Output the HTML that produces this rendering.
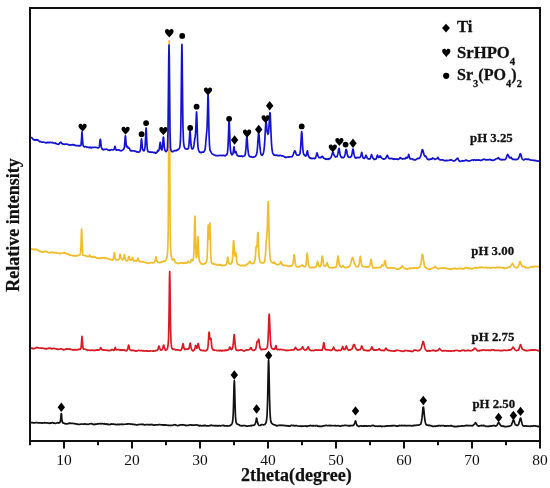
<!DOCTYPE html>
<html><head><meta charset="utf-8"><style>
html,body{margin:0;padding:0;background:#fff;}
body{width:550px;height:488px;overflow:hidden;}
svg{display:block;}
</style></head><body>
<svg width="550" height="488" viewBox="0 0 550 488">
<rect width="550" height="488" fill="#fff"/>
<g fill="none" stroke-width="1.7" stroke-linejoin="round">
<path stroke="#111" d="M31.00,422.59 31.50,422.64 32.00,422.71 32.50,422.61 33.00,422.87 33.50,422.90 34.00,422.80 34.50,422.77 35.00,422.79 35.50,422.65 36.00,422.72 36.50,422.74 37.00,422.48 37.50,422.75 38.00,422.87 38.50,422.97 39.00,422.83 39.50,422.86 40.00,422.91 40.50,422.90 41.00,422.88 41.50,423.04 42.00,423.13 42.50,423.09 43.00,422.92 43.50,422.99 44.00,423.01 44.50,422.62 45.00,422.82 45.50,422.88 46.00,422.82 46.50,422.85 47.00,422.82 47.50,422.80 48.00,423.19 48.50,423.08 49.00,423.34 49.50,423.39 50.00,423.05 50.50,422.95 51.00,423.10 51.50,422.92 52.00,422.65 52.50,422.66 53.00,422.76 53.50,423.20 54.00,423.26 54.50,423.05 55.00,423.39 55.50,423.44 56.00,423.23 56.50,423.00 57.00,423.00 57.50,422.74 58.00,422.65 58.50,423.05 59.00,422.85 59.50,422.68 60.00,422.52 60.30,421.61 60.50,420.81 60.80,418.07 61.00,415.35 61.05,414.77 61.30,413.60 61.50,414.27 61.55,414.80 61.80,418.04 62.00,419.92 62.30,421.78 62.50,422.23 63.00,423.14 63.50,423.12 64.00,423.28 64.50,423.43 65.00,423.68 65.50,423.59 66.00,423.94 66.50,423.85 67.00,423.91 67.50,423.87 68.00,423.53 68.50,423.57 69.00,423.29 69.50,423.10 70.00,423.42 70.50,423.15 71.00,423.32 71.50,423.47 72.00,423.43 72.50,423.36 73.00,423.46 73.50,423.52 74.00,423.71 74.50,423.52 75.00,423.83 75.50,423.78 76.00,423.83 76.50,424.09 77.00,424.04 77.50,424.15 78.00,424.33 78.50,424.47 79.00,424.29 79.50,424.35 80.00,424.25 80.50,424.17 81.00,424.17 81.50,424.00 82.00,424.01 82.50,423.98 83.00,424.16 83.50,424.02 84.00,424.06 84.50,424.06 85.00,423.75 85.50,423.93 86.00,424.22 86.50,424.32 87.00,424.15 87.50,424.25 88.00,424.45 88.50,424.22 89.00,424.13 89.50,423.84 90.00,423.89 90.50,423.77 91.00,423.76 91.50,423.49 92.00,423.90 92.50,424.08 93.00,424.05 93.50,424.54 94.00,424.64 94.50,424.27 95.00,424.50 95.50,424.12 96.00,424.03 96.50,424.16 97.00,424.05 97.50,423.74 98.00,423.84 98.50,423.85 99.00,423.74 99.50,423.66 100.00,423.71 100.50,423.90 101.00,423.58 101.50,423.82 102.00,423.77 102.50,423.58 103.00,423.73 103.50,423.88 104.00,423.87 104.50,423.72 105.00,424.19 105.50,424.14 106.00,424.24 106.50,423.90 107.00,424.07 107.50,424.10 108.00,424.56 108.50,424.43 109.00,424.41 109.50,424.50 110.00,424.61 110.50,424.42 111.00,424.02 111.50,423.86 112.00,424.17 112.50,424.05 113.00,424.18 113.50,424.01 114.00,424.10 114.50,424.47 115.00,424.38 115.50,424.23 116.00,424.64 116.50,424.52 117.00,424.62 117.50,424.31 118.00,424.67 118.50,424.30 119.00,424.62 119.50,424.38 120.00,424.27 120.50,424.32 121.00,424.47 121.50,424.20 122.00,424.17 122.50,424.40 123.00,424.32 123.50,424.30 124.00,424.34 124.50,424.26 125.00,424.25 125.50,424.18 126.00,424.07 126.50,424.19 127.00,423.95 127.50,424.05 128.00,423.91 128.50,423.99 129.00,423.85 129.50,423.96 130.00,423.86 130.50,424.20 131.00,424.15 131.50,424.03 132.00,424.20 132.50,424.44 133.00,424.08 133.50,424.44 134.00,424.36 134.50,424.51 135.00,424.79 135.50,424.68 136.00,424.77 136.50,424.84 137.00,424.93 137.50,424.59 138.00,424.76 138.50,424.66 139.00,424.61 139.50,424.51 140.00,424.47 140.50,424.31 141.00,424.33 141.50,424.28 142.00,424.58 142.50,424.39 143.00,424.41 143.50,424.44 144.00,424.85 144.50,424.92 145.00,424.86 145.50,424.68 146.00,424.64 146.50,424.64 147.00,424.69 147.50,424.54 148.00,424.66 148.50,424.57 149.00,424.87 149.50,424.84 150.00,424.62 150.50,424.46 151.00,424.78 151.50,424.52 152.00,424.64 152.50,424.61 153.00,424.90 153.50,425.04 154.00,425.10 154.50,424.96 155.00,425.09 155.50,424.85 156.00,424.95 156.50,424.86 157.00,424.99 157.50,424.80 158.00,424.72 158.50,424.74 159.00,424.61 159.50,424.69 160.00,424.63 160.50,424.76 161.00,424.79 161.50,424.90 162.00,425.06 162.50,424.91 163.00,424.91 163.50,425.21 164.00,424.83 164.50,425.08 165.00,425.04 165.50,424.76 166.00,425.12 166.50,425.18 167.00,425.13 167.50,425.27 168.00,425.40 168.50,425.16 169.00,425.37 169.50,425.35 170.00,425.48 170.50,425.44 171.00,425.42 171.50,425.29 172.00,425.43 172.50,425.31 173.00,425.24 173.50,424.93 174.00,424.74 174.50,424.71 175.00,424.79 175.50,424.73 176.00,425.20 176.50,425.24 177.00,425.45 177.50,425.58 178.00,425.67 178.50,425.52 179.00,425.15 179.50,425.31 180.00,425.09 180.50,424.82 181.00,424.78 181.50,424.87 182.00,424.66 182.50,425.04 183.00,424.90 183.50,424.89 184.00,425.00 184.50,425.24 185.00,425.07 185.50,425.40 186.00,425.60 186.50,425.45 187.00,425.43 187.50,425.44 188.00,425.43 188.50,425.32 189.00,425.12 189.50,425.02 190.00,424.73 190.50,424.80 191.00,424.91 191.50,425.22 192.00,425.11 192.50,425.30 193.00,425.08 193.50,425.08 194.00,425.09 194.50,425.17 195.00,425.08 195.50,425.00 196.00,424.80 196.50,424.95 197.00,425.05 197.50,425.21 198.00,425.21 198.50,425.68 199.00,425.42 199.50,425.79 200.00,425.79 200.50,425.41 201.00,425.64 201.50,425.83 202.00,425.91 202.50,425.67 203.00,425.56 203.50,425.49 204.00,425.78 204.50,425.42 205.00,425.58 205.50,425.41 206.00,425.65 206.50,425.92 207.00,425.63 207.50,426.00 208.00,425.89 208.50,426.02 209.00,425.84 209.50,425.50 210.00,425.67 210.50,425.39 211.00,425.15 211.50,425.17 212.00,425.47 212.50,425.55 213.00,425.58 213.50,425.58 214.00,425.71 214.50,425.69 215.00,425.91 215.50,425.52 216.00,425.83 216.50,425.86 217.00,425.53 217.50,425.90 218.00,425.81 218.50,425.89 219.00,425.62 219.50,425.66 220.00,425.67 220.50,425.93 221.00,425.72 221.50,425.58 222.00,425.57 222.50,425.48 223.00,425.36 223.50,425.40 224.00,425.80 224.50,425.63 225.00,426.00 225.50,425.75 226.00,425.77 226.50,425.87 227.00,425.72 227.50,425.80 228.00,426.04 228.50,425.98 229.00,425.90 229.50,425.70 230.00,425.63 230.50,425.37 231.00,424.85 231.50,424.48 232.00,423.53 232.50,422.45 233.00,417.95 233.30,412.05 233.50,405.99 233.80,394.31 234.00,386.43 234.05,385.17 234.30,380.60 234.50,383.39 234.55,385.00 234.80,394.40 235.00,402.33 235.30,412.14 235.50,416.63 236.00,421.74 236.50,423.51 237.00,423.91 237.50,424.30 238.00,424.43 238.50,424.55 239.00,424.78 239.50,425.05 240.00,425.58 240.50,425.57 241.00,425.53 241.50,425.87 242.00,425.92 242.50,425.68 243.00,425.55 243.50,425.57 244.00,425.54 244.50,425.68 245.00,425.64 245.50,425.80 246.00,425.89 246.50,426.10 247.00,426.27 247.50,426.20 248.00,426.02 248.50,425.97 249.00,425.98 249.50,425.88 250.00,425.84 250.50,425.67 251.00,425.65 251.50,425.82 252.00,425.29 252.50,425.33 253.00,425.31 253.50,425.36 254.00,424.99 254.50,424.84 255.00,424.31 255.50,423.02 255.60,422.62 256.00,420.72 256.10,420.08 256.35,418.81 256.50,417.99 256.60,418.20 256.85,418.47 257.00,419.51 257.10,420.17 257.50,422.26 257.60,422.80 258.00,423.96 258.50,424.97 259.00,425.50 259.50,425.50 260.00,425.43 260.50,425.34 261.00,424.85 261.50,424.64 262.00,424.57 262.50,424.70 263.00,424.76 263.50,424.86 264.00,424.70 264.50,424.52 265.00,424.27 265.50,423.60 266.00,422.76 266.50,420.72 267.00,416.27 267.50,403.74 267.60,400.30 268.00,381.28 268.10,375.93 268.35,364.44 268.50,360.47 268.60,360.10 268.85,364.66 269.00,371.11 269.10,375.83 269.50,395.69 269.60,400.09 270.00,412.39 270.50,419.38 271.00,421.85 271.50,423.09 272.00,423.43 272.50,423.94 273.00,424.28 273.50,424.69 274.00,424.69 274.50,424.97 275.00,425.00 275.50,425.14 276.00,425.37 276.50,425.87 277.00,425.85 277.50,425.65 278.00,425.44 278.50,425.52 279.00,425.47 279.50,425.25 280.00,425.15 280.50,425.36 281.00,425.51 281.50,425.23 282.00,425.18 282.50,425.35 283.00,425.41 283.50,425.54 284.00,425.36 284.50,425.67 285.00,425.68 285.50,425.61 286.00,425.49 286.50,425.88 287.00,425.67 287.50,426.02 288.00,425.88 288.50,425.96 289.00,426.25 289.50,425.98 290.00,426.13 290.50,425.74 291.00,425.41 291.50,425.29 292.00,425.32 292.50,425.46 293.00,425.66 293.50,425.39 294.00,425.59 294.50,425.58 295.00,425.95 295.50,425.59 296.00,425.57 296.50,425.60 297.00,425.77 297.50,426.02 298.00,426.02 298.50,425.98 299.00,426.16 299.50,426.22 300.00,426.03 300.50,426.03 301.00,426.39 301.50,426.30 302.00,425.97 302.50,426.24 303.00,426.10 303.50,426.08 304.00,426.06 304.50,425.99 305.00,425.93 305.50,426.06 306.00,426.11 306.50,426.39 307.00,426.02 307.50,426.36 308.00,425.91 308.50,425.84 309.00,425.91 309.50,425.80 310.00,425.58 310.50,425.42 311.00,425.64 311.50,425.63 312.00,425.91 312.50,425.61 313.00,425.69 313.50,425.93 314.00,425.53 314.50,425.69 315.00,425.86 315.50,425.83 316.00,425.50 316.50,425.54 317.00,425.65 317.50,426.16 318.00,425.99 318.50,426.31 319.00,426.42 319.50,426.17 320.00,426.15 320.50,426.48 321.00,426.35 321.50,426.20 322.00,426.41 322.50,426.17 323.00,426.01 323.50,425.69 324.00,425.84 324.50,425.76 325.00,425.57 325.50,425.72 326.00,425.31 326.50,425.41 327.00,425.52 327.50,425.75 328.00,425.75 328.50,425.50 329.00,425.45 329.50,425.54 330.00,425.59 330.50,425.79 331.00,425.46 331.50,425.74 332.00,425.71 332.50,425.75 333.00,425.73 333.50,425.66 334.00,425.53 334.50,425.55 335.00,425.62 335.50,425.87 336.00,425.61 336.50,425.71 337.00,425.98 337.50,425.76 338.00,425.70 338.50,425.71 339.00,425.97 339.50,425.89 340.00,426.19 340.50,426.12 341.00,426.11 341.50,425.70 342.00,425.55 342.50,425.49 343.00,425.65 343.50,425.72 344.00,425.56 344.50,425.40 345.00,425.42 345.50,425.46 346.00,425.46 346.50,425.53 347.00,425.64 347.50,425.66 348.00,425.51 348.50,425.91 349.00,425.69 349.50,425.80 350.00,425.69 350.50,425.83 351.00,425.56 351.50,425.55 352.00,425.51 352.50,425.43 353.00,425.70 353.50,425.38 354.00,424.74 354.50,423.63 355.00,422.21 355.25,421.27 355.50,420.90 355.75,421.20 356.00,422.23 356.50,423.96 357.00,425.38 357.50,425.63 358.00,426.06 358.50,426.29 359.00,426.31 359.50,426.31 360.00,425.88 360.50,425.97 361.00,425.88 361.50,425.91 362.00,426.24 362.50,426.03 363.00,426.15 363.50,425.87 364.00,426.09 364.50,425.91 365.00,425.85 365.50,426.11 366.00,426.21 366.50,425.85 367.00,426.08 367.50,426.10 368.00,425.93 368.50,426.02 369.00,425.93 369.50,425.97 370.00,426.00 370.50,426.11 371.00,426.02 371.50,425.67 372.00,425.43 372.50,425.46 373.00,425.57 373.50,425.42 374.00,425.63 374.50,425.79 375.00,426.26 375.50,426.30 376.00,426.15 376.50,426.16 377.00,426.27 377.50,426.31 378.00,426.32 378.50,426.06 379.00,426.08 379.50,426.33 380.00,426.22 380.50,426.18 381.00,426.22 381.50,426.53 382.00,426.25 382.50,426.36 383.00,426.25 383.50,426.26 384.00,426.44 384.50,426.49 385.00,426.20 385.50,426.09 386.00,426.26 386.50,425.93 387.00,425.74 387.50,426.07 388.00,425.82 388.50,426.00 389.00,425.82 389.50,426.04 390.00,425.85 390.50,425.72 391.00,425.65 391.50,425.87 392.00,425.86 392.50,425.91 393.00,425.47 393.50,425.65 394.00,425.52 394.50,425.62 395.00,425.55 395.50,425.74 396.00,425.98 396.50,426.26 397.00,425.93 397.50,426.06 398.00,426.10 398.50,426.03 399.00,425.55 399.50,425.41 400.00,425.74 400.50,425.75 401.00,425.53 401.50,425.34 402.00,425.73 402.50,425.49 403.00,425.72 403.50,425.60 404.00,425.72 404.50,425.46 405.00,425.77 405.50,425.54 406.00,425.63 406.50,425.83 407.00,425.81 407.50,425.50 408.00,425.51 408.50,425.58 409.00,425.62 409.50,425.57 410.00,425.49 410.50,425.58 411.00,425.83 411.50,425.94 412.00,425.56 412.50,425.76 413.00,425.79 413.50,425.39 414.00,425.67 414.50,425.27 415.00,425.45 415.50,425.41 416.00,425.41 416.50,425.22 417.00,425.22 417.50,425.24 418.00,425.10 418.50,425.14 419.00,424.96 419.50,424.84 420.00,424.45 420.50,424.30 421.00,423.30 421.50,421.22 422.00,417.92 422.30,415.04 422.50,412.75 422.80,409.50 423.00,407.97 423.05,407.49 423.30,407.30 423.50,407.23 423.55,407.63 423.80,409.44 424.00,411.65 424.30,414.89 424.50,416.68 425.00,420.85 425.50,422.91 426.00,424.37 426.50,424.96 427.00,425.13 427.50,425.07 428.00,425.33 428.50,425.27 429.00,425.52 429.50,425.14 430.00,425.48 430.50,425.64 431.00,425.70 431.50,425.97 432.00,425.91 432.50,426.44 433.00,426.29 433.50,426.50 434.00,426.44 434.50,426.05 435.00,426.27 435.50,426.30 436.00,425.90 436.50,426.00 437.00,426.10 437.50,425.72 438.00,425.94 438.50,425.58 439.00,425.80 439.50,425.50 440.00,425.69 440.50,425.90 441.00,425.61 441.50,425.66 442.00,425.78 442.50,425.70 443.00,425.59 443.50,425.69 444.00,425.70 444.50,426.07 445.00,425.96 445.50,426.06 446.00,425.74 446.50,426.02 447.00,425.73 447.50,425.92 448.00,425.97 448.50,425.83 449.00,426.01 449.50,425.81 450.00,425.77 450.50,425.86 451.00,425.49 451.50,425.95 452.00,425.92 452.50,425.99 453.00,426.35 453.50,426.24 454.00,426.62 454.50,426.45 455.00,426.38 455.50,426.60 456.00,426.49 456.50,426.40 457.00,426.66 457.50,426.31 458.00,426.56 458.50,426.18 459.00,426.23 459.50,426.28 460.00,426.07 460.50,426.10 461.00,425.95 461.50,425.81 462.00,425.83 462.50,425.89 463.00,426.10 463.50,425.98 464.00,425.95 464.50,426.02 465.00,425.58 465.50,425.55 466.00,425.71 466.50,425.42 467.00,425.42 467.50,425.57 468.00,425.46 468.50,425.57 469.00,425.51 469.50,425.68 470.00,425.71 470.50,425.58 471.00,425.81 471.50,425.76 472.00,425.58 472.50,425.85 473.00,425.36 473.50,425.00 474.00,424.47 474.50,424.03 474.60,423.98 475.00,423.35 475.10,423.06 475.35,422.77 475.50,422.60 475.60,423.00 475.85,423.03 476.00,423.16 476.10,423.20 476.50,424.01 476.60,424.10 477.00,425.00 477.50,425.58 478.00,425.77 478.50,426.23 479.00,425.83 479.50,425.95 480.00,425.76 480.50,425.59 481.00,425.48 481.50,425.80 482.00,425.44 482.50,425.66 483.00,425.81 483.50,425.43 484.00,425.45 484.50,425.71 485.00,425.84 485.50,426.12 486.00,426.43 486.50,426.31 487.00,426.44 487.50,426.41 488.00,426.22 488.50,426.49 489.00,426.34 489.50,426.23 490.00,425.88 490.50,426.23 491.00,426.11 491.50,425.89 492.00,425.92 492.50,425.71 493.00,425.57 493.50,425.53 494.00,425.65 494.50,425.64 495.00,425.84 495.50,426.05 496.00,425.95 496.50,425.77 497.00,425.19 497.50,424.17 497.60,424.11 498.00,423.25 498.10,423.22 498.35,422.72 498.50,422.48 498.60,423.00 498.85,422.72 499.00,423.04 499.10,422.85 499.50,423.88 499.60,423.68 500.00,424.49 500.50,425.12 501.00,425.75 501.50,426.07 502.00,426.08 502.50,425.96 503.00,426.31 503.50,426.18 504.00,426.26 504.50,426.65 505.00,426.56 505.50,426.58 506.00,426.54 506.50,426.64 507.00,426.38 507.50,426.51 508.00,426.41 508.50,426.44 509.00,426.19 509.50,426.22 510.00,426.02 510.50,425.71 511.00,425.32 511.50,424.85 512.00,423.47 512.40,422.62 512.50,421.95 512.90,420.62 513.00,420.39 513.15,420.44 513.40,420.20 513.50,419.95 513.65,420.01 513.90,420.47 514.00,420.74 514.40,422.25 514.50,422.52 515.00,423.85 515.50,424.73 516.00,424.90 516.50,425.35 517.00,425.30 517.50,425.41 518.00,425.13 518.50,424.52 519.00,422.93 519.50,421.38 520.00,419.19 520.25,418.39 520.50,418.20 520.75,418.11 521.00,419.05 521.50,421.37 522.00,423.39 522.50,425.07 523.00,425.74 523.50,425.94 524.00,426.13 524.50,426.07 525.00,425.92 525.50,425.83 526.00,425.85 526.50,426.19 527.00,426.01 527.50,426.14 528.00,426.26 528.50,426.13 529.00,426.27 529.50,426.25 530.00,426.37 530.50,426.12 531.00,425.99 531.50,426.20 532.00,425.97 532.50,426.12 533.00,426.00 533.50,425.71 534.00,425.86 534.50,425.86 535.00,426.00 535.50,425.86 536.00,426.13 536.50,426.20 537.00,426.20 537.50,426.60 538.00,426.30 538.50,426.64 539.00,426.38 539.50,426.35"/>
<path stroke="#da1a22" d="M31.00,348.19 31.50,348.28 32.00,348.17 32.50,348.65 33.00,348.40 33.50,348.62 34.00,348.76 34.50,348.69 35.00,348.30 35.50,347.95 36.00,347.82 36.50,347.39 37.00,347.71 37.50,347.51 38.00,347.91 38.50,347.75 39.00,347.97 39.50,348.03 40.00,348.19 40.50,348.08 41.00,348.00 41.50,348.40 42.00,348.18 42.50,348.18 43.00,348.23 43.50,348.38 44.00,348.44 44.50,348.66 45.00,348.77 45.50,348.70 46.00,349.05 46.50,348.98 47.00,348.43 47.50,348.69 48.00,348.57 48.50,348.39 49.00,348.01 49.50,348.42 50.00,348.41 50.50,348.18 51.00,348.29 51.50,348.88 52.00,348.77 52.50,348.56 53.00,348.46 53.50,348.46 54.00,348.49 54.50,348.76 55.00,348.54 55.50,348.50 56.00,349.03 56.50,349.13 57.00,348.95 57.50,349.47 58.00,349.37 58.50,349.44 59.00,349.27 59.50,349.24 60.00,349.04 60.50,348.96 61.00,348.59 61.50,348.94 62.00,349.03 62.50,349.37 63.00,349.43 63.50,349.84 64.00,349.75 64.50,349.56 65.00,349.42 65.50,349.21 66.00,349.23 66.50,348.87 67.00,349.06 67.50,348.90 68.00,349.10 68.50,349.11 69.00,349.14 69.50,349.32 70.00,348.87 70.50,349.39 71.00,349.32 71.50,349.54 72.00,349.76 72.50,349.98 73.00,349.80 73.50,349.82 74.00,350.09 74.50,349.58 75.00,349.84 75.50,349.82 76.00,349.49 76.50,349.79 77.00,349.75 77.50,349.78 78.00,349.35 78.50,349.61 79.00,349.30 79.50,349.28 80.00,349.51 80.50,348.88 81.00,348.16 81.50,343.10 81.75,338.79 82.00,336.40 82.25,339.07 82.50,342.94 83.00,347.98 83.50,349.06 84.00,349.33 84.50,349.03 85.00,349.17 85.50,349.28 86.00,349.55 86.50,349.93 87.00,349.87 87.50,350.34 88.00,350.19 88.50,350.25 89.00,350.11 89.50,350.23 90.00,350.46 90.50,350.28 91.00,350.36 91.50,350.13 92.00,350.15 92.50,350.17 93.00,350.36 93.50,350.42 94.00,350.51 94.50,350.10 95.00,350.44 95.50,350.49 96.00,350.27 96.50,349.97 97.00,350.09 97.50,349.90 98.00,349.93 98.50,350.23 99.00,349.93 99.50,349.69 99.70,349.55 100.00,349.09 100.20,348.44 100.45,347.81 100.50,347.71 100.70,347.60 100.95,347.87 101.00,347.93 101.20,348.51 101.50,348.97 101.70,349.54 102.00,349.71 102.50,350.05 103.00,349.76 103.50,349.83 104.00,349.78 104.50,350.19 105.00,350.28 105.50,350.15 106.00,350.00 106.50,350.30 107.00,350.40 107.50,350.43 108.00,350.42 108.50,350.56 109.00,350.68 109.50,350.56 110.00,350.44 110.50,350.33 111.00,350.25 111.50,349.60 112.00,349.80 112.50,349.58 113.00,349.77 113.50,350.32 114.00,350.24 114.30,350.22 114.50,349.65 114.80,348.64 115.00,348.23 115.05,348.19 115.30,347.30 115.50,348.18 115.55,348.32 115.80,348.74 116.00,349.21 116.30,349.53 116.50,349.96 117.00,349.74 117.50,349.60 118.00,349.49 118.50,349.52 119.00,349.95 119.50,349.71 120.00,350.23 120.50,349.81 121.00,350.25 121.50,349.86 122.00,349.82 122.50,350.22 123.00,349.98 123.50,350.26 124.00,349.96 124.50,349.94 125.00,350.46 125.50,350.58 126.00,350.80 126.50,350.78 127.00,350.23 127.50,349.67 127.60,349.41 128.00,347.57 128.10,347.32 128.35,345.76 128.50,345.68 128.60,345.10 128.85,345.89 129.00,346.14 129.10,346.61 129.50,348.67 129.60,349.09 130.00,349.56 130.50,350.11 131.00,350.45 131.50,350.18 132.00,350.57 132.50,350.37 133.00,350.16 133.50,350.39 134.00,350.63 134.50,350.71 135.00,351.00 135.50,350.84 136.00,351.24 136.50,350.96 137.00,350.98 137.50,350.79 138.00,350.50 138.50,350.34 139.00,350.51 139.50,350.62 140.00,350.59 140.50,350.55 141.00,350.47 141.50,350.41 142.00,350.93 142.50,350.79 143.00,350.88 143.50,350.64 144.00,350.82 144.50,351.04 145.00,350.97 145.50,350.86 146.00,350.75 146.50,350.88 147.00,351.19 147.50,350.96 148.00,351.15 148.50,351.10 149.00,351.26 149.50,351.20 150.00,350.92 150.50,350.76 151.00,350.90 151.50,350.97 152.00,351.03 152.50,351.11 153.00,351.11 153.50,350.62 154.00,351.03 154.50,350.98 155.00,350.92 155.50,350.65 156.00,350.36 156.50,350.55 157.00,350.40 157.50,350.05 158.00,349.33 158.50,347.28 158.75,346.20 159.00,346.20 159.25,346.43 159.50,347.47 160.00,348.82 160.50,349.89 161.00,350.15 161.50,349.71 162.00,349.68 162.50,349.03 162.70,348.39 163.00,347.11 163.20,346.20 163.45,345.39 163.50,345.25 163.70,345.10 163.95,345.33 164.00,345.33 164.20,346.67 164.50,348.07 164.70,348.52 165.00,349.46 165.50,350.14 166.00,350.14 166.50,349.65 167.00,349.09 167.50,348.23 168.00,346.05 168.50,339.41 168.70,333.06 169.00,317.10 169.20,301.63 169.45,281.61 169.50,278.23 169.70,271.50 169.95,281.59 170.00,285.09 170.20,301.47 170.50,323.65 170.70,333.17 171.00,341.49 171.50,346.79 172.00,348.45 172.50,348.83 173.00,349.39 173.50,349.38 174.00,349.49 174.50,349.22 175.00,349.27 175.50,349.87 176.00,349.90 176.50,349.80 177.00,349.94 177.50,349.84 178.00,350.14 178.50,349.97 179.00,350.31 179.50,350.28 180.00,350.35 180.50,350.41 181.00,349.89 181.50,349.34 182.00,348.19 182.50,345.66 182.75,344.26 183.00,343.70 183.25,344.15 183.50,345.69 184.00,348.21 184.50,349.06 185.00,349.55 185.50,349.48 186.00,348.90 186.50,349.17 187.00,349.07 187.50,348.97 188.00,349.46 188.50,348.98 189.00,348.44 189.20,347.85 189.50,346.59 189.70,345.23 189.95,343.64 190.00,343.44 190.20,343.10 190.45,343.60 190.50,344.31 190.70,345.60 191.00,347.09 191.20,348.01 191.50,349.18 192.00,350.09 192.50,350.73 193.00,350.88 193.50,350.77 194.00,350.04 194.50,349.67 194.70,349.09 195.00,347.92 195.20,347.18 195.45,345.60 195.50,345.47 195.70,345.60 195.95,345.82 196.00,346.08 196.20,346.70 196.50,347.52 196.70,348.09 197.00,348.21 197.20,347.45 197.50,346.33 197.70,345.17 197.95,343.74 198.00,343.72 198.20,343.70 198.45,343.83 198.50,344.12 198.70,345.26 199.00,347.30 199.20,347.86 199.50,349.18 200.00,349.60 200.50,349.77 201.00,350.39 201.50,350.09 202.00,350.51 202.50,350.53 203.00,350.64 203.50,350.35 204.00,350.61 204.50,350.48 205.00,350.92 205.50,350.81 206.00,350.61 206.50,350.37 207.00,350.01 207.50,349.40 208.00,346.44 208.10,345.55 208.50,339.80 208.60,338.18 208.85,334.15 209.00,332.93 209.10,332.20 209.35,333.48 209.50,334.86 209.60,336.39 209.80,338.03 210.00,339.23 210.10,339.28 210.30,339.06 210.50,338.57 210.55,338.10 210.80,338.30 211.00,338.76 211.05,339.36 211.30,341.84 211.50,344.25 211.80,346.33 212.00,347.96 212.50,348.96 213.00,349.93 213.50,350.04 214.00,349.94 214.50,350.19 215.00,350.18 215.50,350.23 216.00,350.25 216.50,350.38 217.00,350.74 217.50,350.76 218.00,350.74 218.50,350.32 219.00,350.44 219.50,350.79 220.00,350.34 220.50,350.71 221.00,350.51 221.50,350.93 222.00,350.46 222.50,350.92 223.00,350.68 223.50,350.52 224.00,350.35 224.50,350.68 225.00,350.39 225.50,350.11 226.00,350.18 226.50,350.42 227.00,350.04 227.50,350.21 228.00,349.90 228.50,349.63 228.80,349.51 229.00,349.05 229.30,347.94 229.50,347.30 229.55,347.18 229.80,347.30 230.00,347.28 230.05,347.31 230.30,347.78 230.50,348.24 230.80,349.04 231.00,349.33 231.50,349.55 232.00,349.16 232.50,348.13 233.00,345.72 233.20,344.45 233.50,341.06 233.70,338.79 233.95,335.75 234.00,335.77 234.20,334.50 234.45,336.08 234.50,336.84 234.70,339.22 235.00,342.78 235.20,344.67 235.50,347.55 236.00,349.36 236.50,350.26 237.00,350.16 237.50,350.22 238.00,350.64 238.50,350.40 239.00,350.19 239.50,350.15 240.00,350.11 240.50,349.67 241.00,349.90 241.50,349.94 242.00,350.17 242.50,350.20 243.00,350.77 243.50,351.01 244.00,351.10 244.50,350.72 245.00,350.73 245.50,350.29 246.00,350.23 246.50,349.65 247.00,349.99 247.50,350.03 248.00,349.81 248.50,349.84 249.00,349.82 249.50,349.59 249.90,348.83 250.00,349.18 250.40,348.01 250.50,347.81 250.65,347.54 250.90,347.60 251.00,347.54 251.15,348.05 251.40,348.14 251.50,348.41 251.90,349.60 252.00,349.50 252.50,349.98 253.00,350.48 253.50,350.45 254.00,350.32 254.50,350.25 255.00,349.63 255.50,349.42 256.00,347.88 256.10,347.08 256.50,344.87 256.60,344.43 256.85,342.92 257.00,342.12 257.10,341.60 257.35,341.50 257.50,341.72 257.60,341.61 257.70,341.84 258.00,341.47 258.10,340.75 258.20,340.59 258.45,339.74 258.50,339.29 258.70,339.10 258.95,340.60 259.00,341.00 259.20,342.28 259.50,344.71 259.70,346.30 260.00,347.64 260.50,348.84 261.00,349.54 261.50,349.58 262.00,349.41 262.50,349.39 263.00,349.40 263.50,349.37 264.00,349.56 264.50,349.35 265.00,349.28 265.50,349.10 266.00,348.98 266.50,348.28 267.00,347.86 267.50,346.11 268.00,340.50 268.20,336.27 268.50,328.82 268.70,323.24 268.95,316.79 269.00,315.95 269.20,314.20 269.45,316.48 269.50,317.72 269.70,322.88 270.00,330.88 270.20,335.70 270.50,341.48 271.00,346.03 271.50,347.82 272.00,348.36 272.50,348.84 273.00,349.13 273.50,349.28 274.00,348.90 274.50,349.21 274.90,348.74 275.00,348.80 275.40,347.24 275.50,346.88 275.65,346.32 275.90,345.60 276.00,345.62 276.15,346.04 276.40,347.54 276.50,347.97 276.90,349.43 277.00,349.22 277.50,349.50 278.00,349.70 278.50,349.36 279.00,349.55 279.50,349.69 280.00,349.44 280.50,349.35 281.00,349.55 281.50,349.70 282.00,349.61 282.50,349.68 283.00,349.72 283.50,349.85 284.00,350.00 284.50,350.05 285.00,350.14 285.50,350.15 286.00,350.43 286.50,350.58 287.00,350.43 287.50,350.38 288.00,350.40 288.50,350.13 289.00,350.40 289.50,350.24 290.00,350.24 290.50,350.21 291.00,350.07 291.50,349.93 292.00,349.86 292.50,349.84 293.00,349.98 293.50,349.86 294.00,349.76 294.50,348.88 295.00,348.06 295.25,347.85 295.50,347.30 295.75,347.49 296.00,348.11 296.50,349.04 297.00,349.47 297.50,350.05 298.00,349.74 298.50,349.99 299.00,349.60 299.50,349.45 300.00,349.76 300.50,349.40 301.00,348.99 301.50,348.74 301.70,348.48 302.00,348.07 302.20,347.31 302.45,346.91 302.50,347.24 302.70,347.00 302.95,347.32 303.00,347.11 303.20,347.69 303.50,348.46 303.70,349.06 304.00,349.50 304.50,349.99 305.00,350.05 305.50,349.86 306.00,349.88 306.50,349.68 307.00,349.19 307.20,348.70 307.50,348.24 307.70,347.73 307.95,347.33 308.00,346.84 308.20,346.90 308.45,347.41 308.50,347.05 308.70,347.96 309.00,348.66 309.20,349.08 309.50,349.85 310.00,350.09 310.50,350.17 311.00,350.47 311.50,350.60 312.00,350.53 312.50,350.46 313.00,350.53 313.50,350.50 314.00,350.54 314.50,350.18 315.00,350.09 315.50,350.08 316.00,349.95 316.50,349.93 317.00,350.21 317.50,350.28 318.00,350.13 318.50,350.12 319.00,349.98 319.50,350.05 320.00,349.98 320.50,350.23 321.00,350.22 321.50,349.90 322.00,350.13 322.50,349.05 322.80,348.29 323.00,347.26 323.30,345.36 323.50,343.62 323.55,343.46 323.80,342.70 324.00,343.39 324.05,343.14 324.30,344.69 324.50,346.26 324.80,347.79 325.00,348.74 325.50,349.56 326.00,349.68 326.50,349.99 327.00,349.74 327.50,349.73 328.00,349.83 328.50,349.73 329.00,349.83 329.50,350.10 330.00,350.11 330.50,350.52 331.00,350.38 331.50,350.24 332.00,349.82 332.50,349.42 332.60,349.27 333.00,348.48 333.10,348.24 333.35,347.87 333.50,347.73 333.60,347.00 333.85,347.68 334.00,347.97 334.10,348.31 334.50,349.47 334.60,349.31 335.00,349.99 335.50,350.45 336.00,350.20 336.50,350.30 337.00,350.67 337.50,350.60 338.00,350.42 338.50,350.17 339.00,350.56 339.50,350.41 340.00,350.44 340.50,350.46 341.00,350.21 341.50,349.41 341.70,348.89 342.00,348.20 342.20,347.74 342.45,347.09 342.50,346.83 342.70,346.40 342.95,346.91 343.00,347.26 343.20,347.77 343.50,348.46 343.70,349.28 344.00,349.57 344.50,349.53 345.00,349.41 345.40,348.86 345.50,348.35 345.90,347.32 346.00,346.64 346.15,346.40 346.40,346.00 346.50,346.45 346.65,346.57 346.90,347.33 347.00,347.40 347.40,348.74 347.50,349.00 348.00,349.60 348.50,350.08 349.00,350.10 349.50,350.36 350.00,350.08 350.50,349.89 351.00,349.55 351.50,349.27 352.00,349.04 352.50,347.74 353.00,346.36 353.50,344.90 353.75,344.55 354.00,344.50 354.25,344.67 354.50,345.07 355.00,346.63 355.50,347.61 356.00,348.60 356.50,349.64 357.00,349.76 357.50,350.17 358.00,350.07 358.50,349.95 359.00,349.88 359.50,349.59 360.00,349.71 360.50,348.93 360.80,348.20 361.00,347.73 361.30,346.81 361.50,346.10 361.55,346.44 361.80,346.40 362.00,346.25 362.05,346.56 362.30,347.01 362.50,347.75 362.80,348.42 363.00,348.77 363.50,349.93 364.00,350.15 364.50,349.98 365.00,350.42 365.50,350.51 366.00,350.36 366.50,350.61 367.00,350.84 367.50,350.58 368.00,350.81 368.50,350.39 369.00,350.43 369.50,350.54 370.00,350.14 370.50,349.81 370.90,349.46 371.00,349.02 371.40,348.12 371.50,347.56 371.65,347.17 371.90,346.90 372.00,347.05 372.15,347.17 372.40,348.19 372.50,348.09 372.90,349.24 373.00,349.19 373.50,350.04 374.00,350.13 374.50,350.12 375.00,349.88 375.50,349.85 376.00,350.21 376.50,349.97 377.00,349.94 377.50,349.89 378.00,349.79 378.20,349.64 378.50,349.28 378.70,349.42 378.95,349.02 379.00,348.88 379.20,349.10 379.45,349.22 379.50,348.93 379.70,349.23 380.00,349.86 380.20,349.66 380.50,350.04 381.00,350.44 381.50,350.50 382.00,350.18 382.50,350.30 383.00,350.53 383.50,350.37 384.00,350.65 384.50,350.04 384.90,350.02 385.00,349.63 385.40,348.76 385.50,348.70 385.65,348.29 385.90,348.20 386.00,348.42 386.15,348.31 386.40,349.04 386.50,349.05 386.90,349.56 387.00,349.62 387.50,350.21 388.00,350.16 388.50,350.61 389.00,350.30 389.50,350.61 390.00,350.72 390.50,350.65 391.00,350.96 391.50,350.78 392.00,351.00 392.50,351.03 393.00,350.97 393.50,351.08 394.00,350.95 394.50,350.94 395.00,351.14 395.50,350.65 396.00,350.62 396.50,350.16 397.00,350.35 397.50,350.29 398.00,350.47 398.50,350.51 399.00,350.52 399.50,350.77 400.00,350.77 400.50,350.73 401.00,351.08 401.50,350.89 402.00,351.00 402.50,351.30 403.00,351.25 403.50,351.28 404.00,351.18 404.50,350.68 405.00,350.65 405.50,350.44 406.00,350.76 406.50,350.76 407.00,350.62 407.50,350.69 408.00,350.85 408.50,350.90 409.00,350.67 409.50,351.04 410.00,350.88 410.50,351.18 411.00,351.08 411.50,351.15 412.00,351.62 412.50,351.44 413.00,351.22 413.50,350.59 414.00,350.31 414.50,350.17 415.00,350.10 415.50,350.19 416.00,350.33 416.50,350.28 417.00,350.55 417.50,350.81 418.00,350.57 418.50,350.84 419.00,350.53 419.50,350.37 420.00,349.79 420.50,349.36 421.00,348.64 421.50,347.15 422.00,345.14 422.20,344.75 422.50,343.46 422.70,342.45 422.95,341.66 423.00,342.02 423.20,341.50 423.45,342.10 423.50,341.93 423.70,342.70 424.00,343.91 424.20,345.19 424.50,346.23 425.00,348.49 425.50,349.68 426.00,350.08 426.50,350.83 427.00,350.88 427.50,351.14 428.00,351.17 428.50,350.80 429.00,350.61 429.50,351.01 430.00,350.71 430.50,350.96 431.00,350.75 431.50,350.66 432.00,350.60 432.50,350.40 433.00,350.27 433.50,350.09 434.00,350.54 434.50,350.53 435.00,350.70 435.50,351.02 436.00,350.61 436.50,350.91 437.00,350.45 437.50,350.65 438.00,350.38 438.50,349.53 439.00,348.97 439.25,348.92 439.50,348.50 439.75,348.77 440.00,349.02 440.50,349.61 441.00,350.11 441.50,350.62 442.00,350.81 442.50,350.73 443.00,350.78 443.50,350.64 444.00,350.90 444.50,350.84 445.00,350.59 445.50,350.61 446.00,350.78 446.50,350.78 447.00,351.08 447.50,350.79 448.00,350.77 448.50,351.10 449.00,350.74 449.50,351.02 450.00,350.95 450.50,351.25 451.00,351.12 451.50,351.20 452.00,350.81 452.50,350.99 453.00,350.86 453.50,350.71 454.00,350.84 454.50,350.87 455.00,350.45 455.50,350.51 456.00,350.51 456.50,350.40 457.00,350.30 457.50,350.47 458.00,350.54 458.50,350.96 459.00,350.97 459.50,350.91 460.00,351.06 460.50,351.07 461.00,350.85 461.50,350.52 462.00,350.25 462.50,350.05 463.00,350.51 463.50,350.42 464.00,350.16 464.50,350.63 465.00,350.90 465.50,350.78 466.00,350.57 466.50,350.75 467.00,350.65 467.50,350.42 468.00,350.52 468.50,350.16 469.00,350.62 469.50,350.49 470.00,350.55 470.50,350.80 471.00,350.72 471.50,350.54 472.00,350.47 472.50,350.20 473.00,349.75 473.50,349.63 474.00,349.07 474.50,348.26 474.75,348.04 475.00,348.60 475.25,348.28 475.50,348.57 476.00,349.18 476.50,349.42 477.00,350.34 477.50,350.80 478.00,350.99 478.50,350.80 479.00,350.64 479.50,350.83 480.00,350.39 480.50,350.29 481.00,350.34 481.50,350.23 482.00,350.42 482.50,350.01 483.00,349.82 483.50,350.04 484.00,350.05 484.50,350.17 485.00,350.16 485.50,350.33 486.00,350.42 486.50,350.22 487.00,350.25 487.50,350.07 488.00,350.18 488.50,350.36 489.00,350.13 489.50,350.48 490.00,350.21 490.50,350.33 491.00,350.52 491.50,349.94 492.00,349.80 492.50,349.92 493.00,349.75 493.50,350.08 494.00,349.78 494.50,350.34 495.00,350.47 495.50,350.52 496.00,350.36 496.50,350.28 497.00,350.48 497.50,350.40 498.00,350.35 498.50,350.30 499.00,350.36 499.50,350.50 500.00,350.65 500.50,350.77 501.00,350.45 501.50,350.57 502.00,350.68 502.50,350.71 503.00,350.51 503.50,350.32 504.00,350.16 504.50,350.21 505.00,350.24 505.50,350.51 506.00,350.44 506.50,350.39 507.00,350.41 507.50,350.37 508.00,350.16 508.50,350.24 509.00,349.80 509.50,350.08 510.00,349.97 510.50,349.67 511.00,349.58 511.50,349.40 512.00,348.58 512.20,348.40 512.50,347.79 512.70,347.57 512.95,347.64 513.00,347.15 513.20,347.20 513.45,347.37 513.50,347.69 513.70,347.84 514.00,348.13 514.20,348.78 514.50,349.11 515.00,349.87 515.50,350.20 516.00,350.50 516.50,350.63 517.00,350.56 517.50,350.32 518.00,350.13 518.50,350.04 519.00,348.96 519.50,347.24 520.00,345.82 520.25,344.77 520.50,344.60 520.75,344.64 521.00,345.55 521.50,347.11 522.00,348.55 522.50,349.31 523.00,349.47 523.50,349.87 524.00,349.83 524.50,350.27 525.00,350.51 525.50,350.39 526.00,350.64 526.50,350.44 527.00,350.55 527.50,350.67 528.00,350.39 528.50,350.40 529.00,350.39 529.50,350.03 530.00,350.46 530.50,350.27 531.00,349.88 531.50,350.24 532.00,349.99 532.50,349.86 533.00,350.27 533.50,350.03 534.00,350.12 534.50,349.76 535.00,350.10 535.50,349.77 536.00,350.01 536.50,350.27 537.00,350.26 537.50,350.72 538.00,350.57 538.50,350.62 539.00,350.84 539.50,350.70"/>
<path stroke="#f2bd2a" d="M31.00,248.85 31.50,249.11 32.00,248.77 32.50,248.98 33.00,249.38 33.50,249.43 34.00,249.35 34.50,249.55 35.00,249.30 35.50,249.20 36.00,249.50 36.50,249.37 37.00,249.88 37.50,249.91 38.00,250.29 38.50,250.65 39.00,250.74 39.50,251.14 40.00,251.07 40.50,251.75 41.00,251.62 41.50,251.98 42.00,251.49 42.50,251.94 43.00,252.11 43.50,251.90 44.00,251.68 44.50,251.59 45.00,251.46 45.50,251.72 46.00,251.27 46.50,251.83 47.00,251.79 47.50,252.10 48.00,252.38 48.50,252.56 49.00,252.73 49.50,252.71 50.00,252.48 50.50,252.60 51.00,252.16 51.50,252.34 52.00,252.33 52.50,252.38 53.00,252.20 53.50,252.63 54.00,252.91 54.50,252.68 55.00,252.62 55.50,252.82 56.00,253.12 56.50,252.65 57.00,252.60 57.50,252.93 58.00,253.10 58.50,253.25 59.00,253.08 59.50,253.59 60.00,253.22 60.50,253.64 61.00,253.28 61.50,253.22 62.00,253.15 62.50,252.92 63.00,253.01 63.50,252.91 64.00,252.65 64.50,253.20 65.00,252.96 65.50,253.01 66.00,253.23 66.50,253.75 67.00,254.00 67.50,253.67 68.00,253.79 68.50,254.49 69.00,254.39 69.50,255.06 70.00,254.90 70.50,255.09 71.00,255.05 71.50,255.50 72.00,255.44 72.50,255.49 73.00,255.96 73.50,255.52 74.00,255.94 74.50,255.53 75.00,255.89 75.50,255.77 76.00,256.12 76.50,255.62 77.00,255.83 77.50,255.57 78.00,255.70 78.50,255.55 79.00,255.24 79.50,254.81 80.00,254.47 80.50,252.90 80.60,252.19 81.00,244.91 81.10,241.96 81.35,233.98 81.50,230.13 81.60,229.10 81.85,233.79 82.00,239.32 82.10,242.15 82.50,251.42 82.60,252.32 83.00,254.89 83.50,255.49 84.00,255.27 84.50,255.62 85.00,255.72 85.50,255.54 86.00,255.78 86.50,256.10 87.00,256.57 87.50,256.27 88.00,256.66 88.50,256.53 88.80,256.28 89.00,256.18 89.30,256.02 89.50,255.35 89.55,255.73 89.80,255.10 90.00,255.47 90.05,255.81 90.30,256.28 90.50,256.20 90.80,257.05 91.00,257.32 91.50,257.08 92.00,256.85 92.50,256.75 93.00,257.13 93.50,256.40 94.00,256.95 94.50,256.62 95.00,257.25 95.50,257.18 96.00,257.57 96.50,258.16 97.00,257.93 97.50,258.13 98.00,258.49 98.50,258.34 99.00,258.42 99.50,258.47 100.00,257.91 100.50,258.05 101.00,258.34 101.50,258.18 102.00,257.68 102.50,257.91 103.00,257.75 103.50,257.91 104.00,257.74 104.50,257.72 105.00,258.36 105.50,258.00 106.00,258.44 106.50,258.07 107.00,258.46 107.50,258.41 108.00,258.76 108.50,258.75 109.00,259.18 109.50,258.96 110.00,259.51 110.50,259.57 111.00,259.52 111.50,259.82 112.00,259.97 112.50,260.18 113.00,259.48 113.40,258.45 113.50,258.50 113.90,255.90 114.00,255.02 114.15,253.63 114.40,252.70 114.50,252.82 114.65,253.65 114.90,255.45 115.00,256.20 115.40,258.75 115.50,259.02 116.00,259.88 116.50,259.90 117.00,259.68 117.50,260.00 118.00,259.89 118.50,259.68 119.00,259.16 119.20,258.75 119.50,257.68 119.70,256.42 119.95,254.76 120.00,254.31 120.20,254.50 120.45,254.48 120.50,254.82 120.70,256.42 121.00,257.70 121.20,258.44 121.50,259.10 122.00,259.31 122.50,259.92 123.00,259.13 123.40,258.87 123.50,258.77 123.90,256.48 124.00,256.13 124.15,255.16 124.40,255.10 124.50,254.59 124.65,255.19 124.90,256.65 125.00,257.72 125.40,259.53 125.50,259.91 126.00,260.21 126.50,260.94 127.00,260.79 127.50,260.77 127.90,260.05 128.00,259.62 128.40,258.38 128.50,257.27 128.65,257.02 128.90,256.40 129.00,256.50 129.15,256.69 129.40,257.78 129.50,258.45 129.90,259.21 130.00,259.65 130.50,260.21 131.00,260.08 131.50,260.01 132.00,258.57 132.25,257.83 132.50,257.40 132.75,258.02 133.00,259.02 133.50,260.26 134.00,260.95 134.50,260.99 135.00,260.79 135.50,261.02 136.00,260.79 136.50,261.15 137.00,260.52 137.50,259.49 137.75,258.58 138.00,258.10 138.25,258.70 138.50,259.47 139.00,260.85 139.50,261.82 140.00,261.65 140.50,261.62 141.00,261.57 141.50,261.71 142.00,261.35 142.50,261.48 143.00,262.01 143.50,261.89 144.00,262.11 144.50,262.35 145.00,262.55 145.50,262.61 146.00,262.28 146.50,262.73 147.00,263.26 147.50,263.44 148.00,263.07 148.50,263.05 149.00,263.02 149.50,262.80 150.00,262.84 150.50,263.00 151.00,262.75 151.50,262.68 152.00,262.44 152.50,262.62 153.00,262.98 153.50,262.73 154.00,262.41 154.50,261.97 154.90,261.23 155.00,260.85 155.40,258.59 155.50,258.42 155.65,257.54 155.90,256.70 156.00,257.19 156.15,257.46 156.40,258.73 156.50,259.23 156.90,260.95 157.00,261.02 157.50,261.98 158.00,262.48 158.50,262.26 159.00,262.39 159.50,262.75 160.00,262.45 160.50,262.43 161.00,262.17 161.50,262.25 162.00,261.48 162.50,261.57 163.00,261.58 163.50,261.15 164.00,261.27 164.50,261.46 165.00,261.23 165.50,260.67 166.00,259.80 166.50,258.95 167.00,257.04 167.50,253.67 168.00,242.62 168.20,230.64 168.50,191.70 168.70,146.97 168.95,78.04 169.00,65.73 169.20,40.50 169.45,78.17 169.50,91.83 169.70,146.54 170.00,208.45 170.20,230.76 170.50,246.19 171.00,254.46 171.50,257.26 172.00,258.64 172.50,259.93 173.00,260.07 173.10,260.19 173.50,259.91 173.60,260.03 173.85,259.55 174.00,258.98 174.10,258.90 174.35,259.89 174.50,260.29 174.60,260.63 175.00,261.95 175.10,261.88 175.50,262.40 176.00,262.96 176.50,262.87 177.00,263.07 177.50,263.22 178.00,263.56 178.50,263.49 179.00,263.43 179.50,263.04 180.00,262.64 180.50,262.92 181.00,262.83 181.50,263.06 182.00,263.16 182.50,262.87 183.00,263.05 183.50,262.85 184.00,263.19 184.50,262.66 185.00,262.67 185.50,263.15 186.00,263.08 186.50,262.74 187.00,262.91 187.50,262.38 187.75,261.91 188.00,261.30 188.25,261.52 188.50,262.14 189.00,262.29 189.50,262.47 190.00,262.68 190.50,262.26 190.60,262.17 191.00,260.90 191.10,260.75 191.35,260.16 191.50,259.52 191.60,259.70 191.85,260.18 192.00,259.98 192.10,260.15 192.50,260.61 192.60,260.58 193.00,260.60 193.50,258.28 193.90,252.37 194.00,249.70 194.40,233.54 194.50,228.79 194.65,222.20 194.90,216.20 195.00,217.33 195.15,222.12 195.40,233.53 195.50,238.16 195.90,251.66 196.00,253.95 196.50,257.71 196.90,255.65 197.00,254.37 197.40,245.97 197.50,243.17 197.65,239.66 197.90,236.70 198.00,236.79 198.15,239.98 198.40,246.47 198.50,248.82 198.90,256.86 199.00,258.20 199.50,261.20 200.00,262.37 200.50,262.89 201.00,263.36 201.50,264.06 202.00,263.95 202.50,264.27 203.00,264.27 203.50,264.03 204.00,263.79 204.50,263.93 205.00,263.46 205.50,263.51 206.00,262.65 206.50,262.04 207.00,259.06 207.20,255.67 207.50,248.43 207.70,240.59 207.95,231.12 208.00,229.21 208.20,225.20 208.45,229.14 208.50,230.21 208.70,235.57 208.80,237.32 209.00,238.87 209.20,236.60 209.30,234.00 209.50,227.98 209.55,226.92 209.80,222.80 210.00,226.73 210.05,228.97 210.30,239.00 210.50,246.81 210.80,255.18 211.00,258.92 211.50,262.53 212.00,263.19 212.50,263.74 213.00,263.66 213.50,264.18 214.00,264.17 214.50,264.00 215.00,264.11 215.50,264.66 216.00,264.38 216.50,264.99 217.00,264.70 217.50,264.68 218.00,264.89 218.50,264.70 219.00,264.82 219.50,264.55 220.00,265.02 220.50,264.72 221.00,265.23 221.50,265.02 222.00,265.65 222.50,265.93 223.00,265.62 223.50,265.35 224.00,265.46 224.50,265.49 225.00,265.06 225.50,265.09 226.00,264.57 226.50,264.07 226.70,263.55 227.00,261.64 227.20,260.19 227.45,257.72 227.50,257.82 227.70,257.20 227.95,257.51 228.00,258.36 228.20,259.96 228.50,261.99 228.70,262.65 229.00,263.29 229.50,263.76 230.00,264.10 230.50,263.90 231.00,264.01 231.50,263.09 232.00,262.17 232.50,258.73 232.60,257.29 233.00,250.07 233.10,247.62 233.35,242.60 233.50,240.77 233.60,240.80 233.85,242.82 234.00,245.48 234.10,247.07 234.50,254.09 234.60,254.50 234.70,255.51 235.00,255.88 235.20,254.43 235.45,253.09 235.50,252.63 235.70,252.30 235.95,253.22 236.00,253.88 236.20,256.13 236.50,259.18 236.70,261.16 237.00,262.50 237.50,264.17 238.00,264.32 238.50,264.45 239.00,264.97 239.50,264.85 240.00,265.29 240.50,265.56 241.00,265.54 241.50,265.51 242.00,265.26 242.50,265.56 243.00,265.29 243.50,265.65 244.00,265.36 244.50,265.68 245.00,265.58 245.50,265.29 246.00,265.17 246.50,264.55 247.00,264.24 247.50,264.37 248.00,263.52 248.50,263.47 248.70,263.24 249.00,262.50 249.20,261.89 249.45,261.39 249.50,261.82 249.70,262.10 249.95,261.34 250.00,261.64 250.20,262.01 250.50,262.27 250.70,262.79 251.00,262.93 251.50,263.49 252.00,263.65 252.50,263.63 253.00,263.46 253.50,263.37 254.00,262.84 254.50,261.99 255.00,259.92 255.20,258.70 255.50,254.99 255.70,252.35 255.95,248.22 256.00,248.21 256.20,246.60 256.45,246.39 256.50,246.74 256.70,247.13 256.90,246.81 257.00,245.79 257.20,243.46 257.40,239.11 257.50,236.97 257.65,233.75 257.90,232.30 258.00,232.34 258.15,234.96 258.40,241.36 258.50,244.53 258.90,253.28 259.00,255.24 259.50,259.80 260.00,261.64 260.50,262.45 261.00,262.80 261.50,262.62 262.00,262.80 262.50,263.01 263.00,263.24 263.50,262.56 264.00,262.63 264.50,261.83 265.00,259.54 265.40,255.19 265.50,254.09 265.90,247.06 266.00,245.51 266.15,242.31 266.40,239.20 266.50,238.70 266.65,237.41 266.90,235.58 267.00,234.17 267.20,230.52 267.40,225.09 267.50,221.51 267.70,213.28 267.95,204.31 268.00,202.87 268.20,201.50 268.45,205.72 268.50,207.61 268.70,216.72 269.00,231.54 269.20,239.82 269.50,248.98 270.00,256.92 270.50,259.93 271.00,261.34 271.50,262.13 272.00,262.61 272.50,263.00 273.00,262.93 273.30,263.14 273.50,263.15 273.80,262.82 274.00,262.18 274.05,262.53 274.30,262.10 274.50,262.36 274.55,262.30 274.80,263.18 275.00,263.32 275.30,263.79 275.50,263.61 276.00,264.34 276.50,264.53 277.00,264.61 277.50,264.58 278.00,264.68 278.50,264.67 279.00,264.44 279.50,263.95 279.80,263.71 280.00,263.24 280.30,262.53 280.50,261.71 280.55,262.03 280.80,261.80 281.00,261.77 281.05,262.14 281.30,262.28 281.50,263.41 281.80,264.10 282.00,264.19 282.50,265.21 283.00,265.10 283.50,265.18 284.00,265.36 284.50,265.21 285.00,265.35 285.50,265.60 286.00,265.48 286.50,265.57 287.00,265.49 287.50,265.89 288.00,266.04 288.50,266.09 289.00,266.32 289.50,266.26 290.00,266.00 290.50,265.76 291.00,266.05 291.50,266.05 292.00,265.49 292.50,265.04 293.00,263.49 293.20,262.28 293.50,259.44 293.70,257.97 293.95,255.72 294.00,255.49 294.20,254.70 294.45,256.36 294.50,256.47 294.70,258.31 295.00,260.97 295.20,262.48 295.50,264.18 296.00,265.83 296.50,266.73 297.00,266.84 297.50,266.78 298.00,266.75 298.50,266.84 299.00,266.91 299.50,266.46 300.00,266.30 300.50,266.13 301.00,265.50 301.40,265.69 301.50,265.23 301.90,265.49 302.00,265.03 302.15,265.03 302.40,265.50 302.50,265.52 302.65,265.27 302.90,265.47 303.00,266.01 303.40,266.26 303.50,266.52 304.00,266.43 304.50,266.51 305.00,266.69 305.50,265.99 306.00,264.70 306.20,262.88 306.50,260.37 306.70,257.54 306.95,254.89 307.00,254.12 307.20,253.20 307.45,254.70 307.50,255.70 307.70,257.81 308.00,261.60 308.20,263.13 308.50,265.09 309.00,266.34 309.50,267.11 310.00,267.52 310.50,267.40 311.00,267.35 311.50,267.71 312.00,267.68 312.50,267.53 313.00,267.15 313.50,267.48 314.00,267.31 314.50,267.55 315.00,267.05 315.50,267.06 316.00,266.62 316.50,265.41 316.60,265.18 317.00,263.65 317.10,263.35 317.35,262.11 317.50,261.68 317.60,261.50 317.85,262.39 318.00,262.34 318.10,263.25 318.50,264.81 318.60,265.08 319.00,266.00 319.50,266.65 320.00,266.68 320.50,266.05 321.00,264.58 321.30,262.43 321.50,261.12 321.80,258.41 322.00,257.33 322.05,256.97 322.30,256.10 322.50,256.21 322.55,256.77 322.80,258.68 323.00,260.08 323.30,262.59 323.50,263.98 324.00,265.60 324.50,265.95 325.00,266.38 325.50,265.94 326.00,265.47 326.10,265.17 326.50,264.40 326.60,263.87 326.85,263.29 327.00,262.99 327.10,262.60 327.35,263.20 327.50,264.06 327.60,264.27 328.00,265.69 328.10,265.72 328.50,266.53 329.00,267.31 329.50,267.68 330.00,267.77 330.50,267.55 331.00,267.46 331.50,267.71 332.00,267.97 332.50,267.53 333.00,267.91 333.50,267.55 334.00,267.61 334.50,267.36 335.00,267.36 335.50,267.17 336.00,267.10 336.50,266.04 337.00,263.07 337.50,258.98 337.75,257.38 338.00,256.10 338.25,256.79 338.50,258.76 339.00,262.83 339.50,264.96 340.00,266.00 340.50,266.46 341.00,266.68 341.50,267.14 342.00,266.54 342.50,266.03 342.75,266.23 343.00,265.50 343.25,265.97 343.50,266.52 344.00,267.02 344.50,267.47 345.00,267.31 345.50,267.24 346.00,267.62 346.50,267.40 347.00,267.36 347.50,267.29 348.00,267.18 348.50,266.67 349.00,266.43 349.50,266.33 350.00,265.33 350.50,263.98 351.00,262.51 351.50,260.26 352.00,258.69 352.25,257.61 352.50,257.50 352.75,258.05 353.00,258.45 353.50,260.12 354.00,262.44 354.50,263.66 355.00,264.84 355.50,265.53 356.00,266.32 356.50,266.74 357.00,266.85 357.50,266.73 358.00,266.86 358.50,265.94 359.00,264.63 359.30,263.18 359.50,261.90 359.80,259.12 360.00,257.56 360.05,257.29 360.30,256.40 360.50,256.76 360.55,257.38 360.80,259.17 361.00,260.66 361.30,262.99 361.50,264.41 362.00,265.77 362.50,266.21 363.00,266.78 363.50,266.61 364.00,266.65 364.50,266.82 365.00,267.08 365.50,266.71 366.00,266.95 366.50,266.85 367.00,267.09 367.50,267.11 368.00,267.28 368.50,267.07 369.00,266.80 369.50,266.12 370.00,264.71 370.10,264.07 370.50,262.17 370.60,261.52 370.85,260.24 371.00,259.37 371.10,259.50 371.35,260.37 371.50,261.29 371.60,261.80 372.00,264.72 372.10,265.28 372.50,266.86 373.00,267.87 373.50,268.05 374.00,268.22 374.50,267.67 375.00,267.93 375.50,267.85 376.00,267.78 376.50,267.58 377.00,267.45 377.50,267.77 378.00,267.88 378.50,267.52 379.00,267.46 379.50,267.44 380.00,267.27 380.50,267.41 381.00,267.08 381.10,266.81 381.50,265.76 381.60,265.76 381.85,264.89 382.00,265.20 382.10,265.30 382.35,264.98 382.50,264.99 382.60,265.54 383.00,265.79 383.10,265.95 383.50,265.65 383.90,264.85 384.00,264.52 384.40,262.67 384.50,261.68 384.65,261.52 384.90,261.20 385.00,260.68 385.15,261.19 385.40,262.69 385.50,263.06 385.90,265.11 386.00,265.67 386.50,266.81 387.00,267.74 387.50,267.61 388.00,268.13 388.50,268.17 389.00,268.00 389.50,267.66 390.00,268.10 390.50,267.61 391.00,267.92 391.50,267.88 392.00,267.65 392.50,267.99 393.00,268.03 393.50,267.93 394.00,267.82 394.50,268.00 395.00,268.29 395.50,268.37 396.00,269.08 396.50,269.40 397.00,269.39 397.50,269.45 398.00,268.95 398.50,269.23 399.00,268.50 399.50,268.61 400.00,268.25 400.50,268.17 401.00,267.77 401.20,267.48 401.50,266.81 401.70,266.40 401.95,265.97 402.00,266.05 402.20,266.10 402.45,266.02 402.50,266.02 402.70,266.64 403.00,267.01 403.20,267.29 403.50,267.58 404.00,268.41 404.50,268.37 405.00,268.55 405.50,268.81 406.00,268.94 406.50,269.09 407.00,268.89 407.50,268.93 408.00,268.83 408.50,268.63 409.00,268.60 409.50,268.17 410.00,268.22 410.50,268.05 411.00,268.53 411.50,268.40 412.00,268.32 412.50,268.07 413.00,268.09 413.50,267.92 414.00,268.16 414.50,268.34 415.00,267.87 415.50,267.71 416.00,267.81 416.50,267.96 417.00,268.33 417.50,268.27 418.00,267.98 418.50,267.63 419.00,267.44 419.50,267.12 420.00,266.81 420.50,265.26 421.00,263.22 421.50,259.82 422.00,256.17 422.25,254.73 422.50,254.30 422.75,255.09 423.00,256.03 423.50,259.80 424.00,263.52 424.50,265.82 425.00,266.94 425.50,267.61 426.00,267.75 426.50,268.45 427.00,268.43 427.50,268.70 428.00,268.88 428.50,268.71 429.00,269.06 429.50,268.96 430.00,269.28 430.50,269.25 431.00,268.65 431.50,268.36 432.00,268.26 432.50,268.27 433.00,267.95 433.50,267.51 434.00,267.76 434.30,267.52 434.50,267.16 434.80,266.69 435.00,267.13 435.05,266.89 435.30,266.40 435.50,266.71 435.55,266.91 435.80,267.34 436.00,267.73 436.30,267.81 436.50,268.11 437.00,268.21 437.50,268.42 438.00,268.88 438.50,268.55 439.00,268.38 439.50,268.66 440.00,268.25 440.50,268.14 441.00,268.13 441.50,268.09 442.00,268.08 442.50,268.13 443.00,267.99 443.50,267.79 444.00,268.24 444.50,267.84 445.00,268.12 445.50,268.11 446.00,268.39 446.50,268.55 447.00,268.38 447.50,268.74 448.00,268.81 448.50,268.71 449.00,268.61 449.50,269.23 450.00,269.17 450.50,268.93 451.00,269.07 451.50,269.47 452.00,268.82 452.50,268.70 453.00,268.73 453.50,268.58 454.00,268.39 454.50,268.49 455.00,268.15 455.50,268.32 456.00,269.01 456.50,269.00 457.00,268.55 457.50,268.51 458.00,268.53 458.50,268.84 459.00,268.27 459.50,268.46 460.00,268.58 460.50,268.43 461.00,268.71 461.50,268.44 462.00,268.51 462.50,268.53 463.00,269.03 463.50,268.53 464.00,268.86 464.50,268.41 465.00,267.81 465.50,267.98 466.00,267.48 466.50,267.74 467.00,267.58 467.50,268.14 468.00,268.34 468.50,268.45 469.00,267.91 469.50,268.48 470.00,268.40 470.50,268.69 471.00,268.62 471.50,268.80 472.00,268.81 472.50,268.87 473.00,268.24 473.50,268.01 474.00,268.10 474.50,267.77 475.00,267.76 475.50,267.51 476.00,267.96 476.50,267.49 477.00,267.98 477.50,267.96 478.00,267.72 478.50,267.48 479.00,267.74 479.50,267.37 480.00,267.43 480.50,267.16 481.00,267.67 481.50,267.40 482.00,267.31 482.50,267.19 483.00,267.62 483.50,267.73 484.00,267.73 484.50,267.26 485.00,267.45 485.50,267.43 486.00,267.75 486.50,267.38 487.00,267.67 487.50,267.94 488.00,267.91 488.50,267.57 489.00,267.75 489.50,267.88 490.00,268.28 490.50,268.16 491.00,267.98 491.50,267.76 492.00,267.56 492.50,267.55 493.00,267.52 493.50,267.70 494.00,267.62 494.50,267.71 495.00,267.83 495.50,267.82 496.00,267.76 496.50,267.29 497.00,267.64 497.50,267.67 498.00,267.33 498.50,267.55 499.00,267.08 499.50,267.59 500.00,267.37 500.50,267.66 501.00,267.50 501.50,267.63 502.00,267.69 502.50,267.69 503.00,267.60 503.50,267.89 504.00,268.31 504.50,268.15 505.00,268.34 505.50,268.19 506.00,268.17 506.50,268.17 507.00,267.93 507.50,267.54 508.00,267.47 508.50,267.49 509.00,267.07 509.50,266.95 510.00,267.04 510.50,266.62 511.00,265.61 511.50,265.08 511.60,264.91 512.00,264.29 512.10,264.08 512.35,263.65 512.50,263.33 512.60,263.60 512.85,264.01 513.00,263.92 513.10,264.31 513.50,265.01 513.60,265.33 514.00,266.36 514.50,266.54 515.00,267.22 515.50,267.55 516.00,267.62 516.50,267.94 517.00,267.58 517.50,267.74 518.00,267.21 518.50,266.58 519.00,264.63 519.10,264.36 519.50,262.89 519.60,262.92 519.85,261.62 520.00,261.54 520.10,261.50 520.35,262.03 520.50,262.57 520.60,262.35 521.00,263.85 521.10,264.32 521.50,265.34 522.00,266.10 522.50,266.39 523.00,266.20 523.50,266.37 524.00,266.46 524.50,267.15 525.00,267.11 525.50,267.35 526.00,267.87 526.50,267.68 527.00,267.67 527.50,267.73 528.00,267.72 528.50,267.79 529.00,267.55 529.50,267.34 530.00,267.19 530.50,266.98 531.00,267.01 531.50,266.73 532.00,266.64 532.50,266.86 533.00,267.10 533.50,266.84 534.00,266.51 534.50,266.76 535.00,266.36 535.50,266.30 536.00,266.44 536.50,266.51 537.00,266.70 537.50,266.55 538.00,266.73 538.50,266.36 539.00,266.96 539.50,266.70"/>
<path stroke="#1414d0" d="M31.00,137.09 31.50,137.63 32.00,137.97 32.50,138.42 33.00,139.18 33.50,139.46 34.00,139.88 34.50,140.10 35.00,139.78 35.50,140.13 36.00,139.76 36.50,139.55 37.00,140.14 37.50,139.86 38.00,140.10 38.50,140.60 39.00,140.94 39.50,141.62 40.00,141.77 40.50,141.61 41.00,141.77 41.50,142.05 42.00,142.12 42.50,142.13 43.00,142.15 43.50,142.02 44.00,142.17 44.50,142.48 45.00,142.51 45.50,142.68 46.00,142.80 46.50,142.88 47.00,142.42 47.50,142.31 48.00,142.74 48.50,142.54 49.00,142.35 49.50,142.70 50.00,142.46 50.50,142.43 51.00,142.48 51.50,142.57 52.00,142.69 52.50,142.41 53.00,142.91 53.50,142.95 54.00,142.98 54.50,143.20 55.00,143.35 55.50,142.98 56.00,143.44 56.50,143.80 57.00,144.06 57.50,144.21 58.00,144.02 58.50,144.38 59.00,144.02 59.50,143.21 60.00,142.65 60.25,142.66 60.50,142.60 60.75,142.11 61.00,142.44 61.50,143.30 62.00,143.68 62.50,143.58 63.00,144.10 63.50,144.04 64.00,144.30 64.50,144.39 65.00,144.03 65.50,144.13 66.00,144.18 66.50,144.26 67.00,144.19 67.50,144.33 68.00,144.57 68.50,144.68 69.00,144.57 69.50,144.95 70.00,145.24 70.50,145.07 71.00,144.91 71.50,145.05 72.00,144.83 72.50,144.65 73.00,144.87 73.50,144.69 74.00,145.15 74.50,144.92 75.00,145.12 75.50,145.54 76.00,145.50 76.50,145.62 77.00,145.57 77.50,145.63 78.00,145.72 78.50,145.91 79.00,145.50 79.50,145.92 80.00,145.80 80.50,145.77 81.00,145.08 81.50,139.56 81.75,135.16 82.00,131.80 82.25,135.24 82.50,139.69 83.00,145.05 83.50,146.17 84.00,146.69 84.50,146.87 85.00,146.69 85.50,146.67 86.00,146.75 86.50,146.97 87.00,147.40 87.50,147.09 88.00,147.28 88.50,147.32 89.00,147.58 89.50,147.74 90.00,147.17 90.50,147.27 91.00,147.80 91.50,147.85 92.00,147.34 92.50,147.40 93.00,147.46 93.50,147.32 94.00,147.39 94.50,147.47 95.00,147.35 95.50,147.31 96.00,147.39 96.50,147.51 97.00,147.56 97.50,147.94 98.00,148.01 98.50,147.68 99.00,147.49 99.30,146.41 99.50,144.97 99.80,142.37 100.00,140.16 100.05,140.13 100.30,139.30 100.50,139.62 100.55,139.76 100.80,142.44 101.00,144.77 101.30,146.80 101.50,147.91 102.00,148.75 102.50,149.56 103.00,149.80 103.50,149.42 104.00,149.62 104.50,149.23 105.00,149.36 105.50,149.29 106.00,149.25 106.50,149.04 107.00,149.20 107.50,149.82 108.00,150.06 108.50,150.04 109.00,150.18 109.50,150.38 110.00,149.98 110.50,150.14 111.00,149.76 111.50,149.66 112.00,149.72 112.50,149.83 113.00,150.01 113.50,149.62 114.00,149.62 114.50,147.92 114.75,147.02 115.00,146.40 115.25,147.26 115.50,148.25 116.00,149.65 116.50,150.22 117.00,149.82 117.50,149.83 118.00,150.05 118.50,149.86 119.00,149.93 119.50,150.15 120.00,150.63 120.50,150.78 121.00,150.73 121.50,150.75 122.00,150.45 122.50,149.96 123.00,149.70 123.50,149.59 124.00,148.46 124.40,146.95 124.50,145.83 124.90,140.82 125.00,139.56 125.15,137.17 125.40,135.80 125.50,136.11 125.65,137.56 125.90,140.96 126.00,142.23 126.40,146.07 126.50,146.77 127.00,146.95 127.25,146.36 127.50,146.40 127.75,146.80 128.00,147.45 128.20,148.14 128.50,148.15 128.70,148.08 128.95,148.00 129.00,148.01 129.20,148.00 129.45,148.31 129.50,148.69 129.70,149.03 130.00,149.85 130.20,150.29 130.50,150.72 131.00,150.89 131.50,150.65 132.00,150.65 132.50,150.95 133.00,151.01 133.50,150.93 134.00,150.75 134.50,151.08 135.00,151.31 135.50,151.21 136.00,151.16 136.50,151.83 137.00,151.98 137.50,151.74 138.00,152.15 138.50,152.29 139.00,152.03 139.50,151.63 140.00,151.39 140.50,149.34 141.00,143.75 141.25,140.14 141.50,138.90 141.75,140.17 142.00,143.27 142.50,148.90 143.00,150.13 143.50,150.64 144.00,150.85 144.50,149.91 145.00,147.34 145.10,146.25 145.50,139.22 145.60,137.02 145.85,131.13 146.00,128.30 146.10,128.00 146.35,130.90 146.50,134.89 146.60,137.26 147.00,145.59 147.10,146.85 147.50,150.09 148.00,151.75 148.50,151.63 149.00,151.82 149.50,152.09 150.00,152.11 150.50,152.14 151.00,151.97 151.50,152.38 152.00,152.28 152.50,152.19 153.00,152.39 153.50,152.62 154.00,152.71 154.50,152.44 155.00,152.55 155.50,153.06 156.00,152.58 156.50,152.90 157.00,152.21 157.50,151.07 157.75,150.49 158.00,150.60 158.25,150.33 158.50,150.86 159.00,149.96 159.20,149.56 159.50,147.18 159.70,145.29 159.95,143.43 160.00,142.85 160.20,142.40 160.45,142.98 160.50,143.48 160.70,145.43 161.00,147.97 161.20,149.05 161.50,149.80 162.00,149.98 162.40,147.57 162.50,146.80 162.90,141.80 163.00,140.05 163.15,138.50 163.40,137.00 163.50,137.28 163.65,138.17 163.90,141.48 164.00,142.88 164.40,147.50 164.50,148.34 165.00,150.50 165.50,151.19 166.00,151.64 166.50,151.10 167.00,150.55 167.50,147.76 168.00,131.30 168.50,83.60 168.75,57.20 169.00,45.10 169.25,57.11 169.50,84.00 170.00,131.26 170.50,147.68 171.00,150.70 171.50,151.10 172.00,151.66 172.50,151.56 173.00,151.70 173.50,151.04 174.00,151.00 174.50,150.63 175.00,150.75 175.50,150.42 176.00,150.68 176.50,150.57 176.60,150.55 177.00,149.87 177.10,150.27 177.35,149.96 177.50,149.83 177.60,149.50 177.85,149.69 178.00,149.30 178.10,149.76 178.50,149.43 178.60,149.31 179.00,148.83 179.50,148.10 180.00,145.95 180.50,139.38 180.90,123.27 181.00,116.93 181.40,80.87 181.50,70.37 181.65,56.20 181.90,44.40 182.00,46.36 182.15,56.28 182.40,80.48 182.50,90.56 182.90,122.51 183.00,128.17 183.50,141.77 184.00,145.89 184.50,147.39 185.00,148.41 185.50,148.91 186.00,148.75 186.50,149.03 187.00,149.18 187.50,148.92 188.00,148.97 188.50,147.88 189.00,144.12 189.50,136.89 189.75,132.61 190.00,130.80 190.25,132.35 190.50,136.75 191.00,144.48 191.50,147.83 192.00,148.78 192.50,148.82 193.00,148.68 193.50,147.45 194.00,144.71 194.50,140.92 194.75,138.90 195.00,137.50 195.25,136.20 195.50,133.98 195.60,132.37 196.00,124.32 196.10,120.99 196.35,114.64 196.50,112.20 196.60,112.00 196.85,116.43 197.00,121.17 197.10,124.58 197.50,137.88 197.60,140.54 198.00,147.11 198.50,150.12 199.00,151.24 199.50,152.12 200.00,152.43 200.50,152.21 201.00,152.64 201.50,152.60 202.00,152.20 202.50,152.12 203.00,152.20 203.50,152.18 204.00,151.47 204.50,150.92 205.00,149.41 205.50,146.10 206.00,139.68 206.25,136.50 206.50,134.00 206.75,131.64 207.00,128.72 207.10,126.49 207.50,113.90 207.60,109.56 207.85,98.87 208.00,95.21 208.10,94.50 208.35,100.38 208.50,107.97 208.60,113.05 209.00,132.34 209.10,136.04 209.50,145.31 210.00,150.16 210.50,151.27 211.00,151.93 211.50,152.86 212.00,153.60 212.50,154.02 213.00,154.41 213.50,154.46 214.00,154.99 214.50,155.05 215.00,155.10 215.50,155.52 216.00,155.75 216.50,155.63 217.00,155.80 217.50,155.61 218.00,155.58 218.50,155.60 219.00,155.59 219.50,155.51 220.00,155.29 220.50,155.25 221.00,155.45 221.50,155.67 222.00,155.69 222.50,155.38 223.00,155.38 223.50,155.55 224.00,155.39 224.50,155.69 225.00,155.88 225.50,155.31 226.00,155.25 226.50,154.91 227.00,154.22 227.50,152.44 228.00,147.01 228.10,144.87 228.50,134.61 228.60,131.48 228.85,123.57 229.00,121.31 229.10,120.50 229.35,123.71 229.50,127.71 229.60,130.84 230.00,142.76 230.10,144.89 230.50,150.35 231.00,153.26 231.50,154.21 232.00,154.86 232.50,154.46 233.00,153.66 233.50,150.05 233.75,147.89 234.00,146.80 234.25,147.82 234.50,150.03 234.90,152.63 235.00,152.73 235.40,152.48 235.50,152.24 235.65,151.73 235.90,151.70 236.00,151.58 236.15,152.09 236.40,153.23 236.50,153.45 236.90,154.80 237.00,154.96 237.50,155.74 238.00,155.66 238.50,156.11 239.00,156.02 239.50,156.03 240.00,156.42 240.50,156.12 241.00,156.07 241.50,155.97 242.00,156.36 242.50,156.56 243.00,156.24 243.50,156.24 244.00,156.16 244.50,155.78 245.00,155.17 245.50,152.78 245.90,148.85 246.00,147.98 246.40,141.71 246.50,139.84 246.65,138.37 246.90,136.60 247.00,137.07 247.15,138.08 247.40,141.75 247.50,143.51 247.90,149.03 248.00,150.21 248.50,153.97 249.00,155.65 249.50,156.32 250.00,156.64 250.50,156.93 251.00,156.58 251.50,156.80 252.00,157.14 252.50,157.14 253.00,157.03 253.50,157.04 254.00,156.75 254.50,156.96 255.00,156.52 255.50,156.14 256.00,155.52 256.50,154.34 257.00,152.23 257.50,147.30 257.70,144.19 258.00,139.88 258.20,137.00 258.45,134.03 258.50,133.54 258.70,133.30 258.95,134.12 259.00,134.26 259.20,136.76 259.50,141.36 259.70,144.07 260.00,147.72 260.50,151.89 261.00,154.06 261.50,155.08 262.00,155.40 262.50,154.78 263.00,154.12 263.50,152.70 264.00,149.85 264.50,144.96 265.00,136.67 265.50,126.98 265.75,123.21 266.00,121.50 266.25,122.12 266.50,124.03 267.00,130.20 267.50,133.17 267.75,133.76 268.00,134.30 268.25,133.41 268.50,132.87 269.00,126.94 269.50,117.42 269.75,113.29 270.00,112.70 270.25,114.62 270.50,120.26 271.00,133.27 271.50,143.53 272.00,149.46 272.50,152.15 273.00,153.83 273.50,154.18 274.00,155.16 274.50,155.12 275.00,155.06 275.50,155.39 276.00,155.42 276.50,155.13 277.00,155.02 277.50,155.57 278.00,155.57 278.50,155.52 279.00,155.78 279.50,155.27 280.00,155.34 280.50,155.46 281.00,155.51 281.50,156.02 282.00,156.09 282.50,155.88 283.00,155.98 283.50,156.10 284.00,156.55 284.50,156.84 285.00,157.26 285.50,157.11 286.00,157.57 286.50,157.24 287.00,157.14 287.50,156.95 288.00,156.82 288.50,157.17 289.00,157.16 289.50,157.03 290.00,156.80 290.50,156.78 291.00,156.73 291.50,156.76 292.00,156.75 292.50,155.85 293.00,155.21 293.50,153.94 293.70,152.93 294.00,152.19 294.20,151.79 294.45,151.08 294.50,150.93 294.70,151.30 294.95,151.11 295.00,151.01 295.20,151.22 295.50,152.00 295.70,152.86 296.00,153.58 296.50,154.62 297.00,155.03 297.50,155.06 298.00,155.19 298.50,155.24 299.00,155.18 299.50,154.25 300.00,153.28 300.50,149.40 300.70,146.60 301.00,141.14 301.20,137.72 301.45,133.21 301.50,132.73 301.70,131.70 301.95,133.31 302.00,134.13 302.20,137.51 302.50,143.57 302.70,146.88 303.00,150.57 303.50,153.61 304.00,154.59 304.50,155.13 305.00,155.38 305.50,156.06 306.00,155.92 306.40,155.16 306.50,154.84 306.90,153.05 307.00,152.34 307.15,151.41 307.40,150.80 307.50,151.28 307.65,151.54 307.90,153.17 308.00,153.51 308.40,155.94 308.50,156.09 309.00,157.05 309.50,157.85 310.00,157.63 310.50,158.35 311.00,158.40 311.50,158.16 312.00,158.63 312.50,158.40 313.00,158.50 313.50,158.30 314.00,158.30 314.50,158.70 315.00,158.16 315.50,158.07 316.00,156.38 316.50,154.47 316.75,153.47 317.00,152.80 317.25,153.70 317.50,154.16 318.00,156.01 318.50,156.86 319.00,157.66 319.50,157.77 320.00,157.39 320.50,157.64 321.00,157.63 321.40,157.01 321.50,157.16 321.90,156.42 322.00,156.34 322.15,156.51 322.40,156.60 322.50,156.48 322.65,156.67 322.90,156.74 323.00,157.00 323.40,157.80 323.50,157.90 324.00,158.19 324.50,158.66 325.00,158.56 325.50,159.10 326.00,158.98 326.50,158.88 327.00,159.35 327.50,159.05 328.00,159.31 328.50,158.81 329.00,159.19 329.50,158.72 330.00,158.57 330.50,157.81 331.00,157.42 331.50,156.11 331.80,155.07 332.00,154.70 332.30,153.18 332.50,152.86 332.55,152.51 332.80,152.80 333.00,152.65 333.05,152.73 333.30,152.67 333.50,153.43 333.80,154.25 334.00,154.92 334.50,155.95 335.00,156.34 335.50,156.99 336.00,156.65 336.50,156.63 337.00,156.70 337.50,155.30 338.00,153.26 338.50,150.42 338.75,149.02 339.00,148.40 339.25,149.02 339.50,150.85 340.00,153.76 340.50,156.10 341.00,156.80 341.50,157.55 342.00,157.24 342.50,157.66 343.00,157.48 343.50,157.58 344.00,157.15 344.50,156.33 345.00,154.68 345.20,153.92 345.50,152.00 345.70,150.63 345.95,149.89 346.00,149.65 346.20,149.50 346.45,149.77 346.50,150.01 346.70,150.74 347.00,152.64 347.20,153.95 347.50,155.38 348.00,156.73 348.50,156.88 349.00,157.39 349.50,157.40 350.00,157.33 350.50,157.12 351.00,156.77 351.50,156.01 352.00,153.96 352.50,150.82 352.75,149.59 353.00,149.00 353.25,149.74 353.50,151.19 354.00,154.18 354.50,156.08 355.00,157.56 355.50,157.64 356.00,158.06 356.50,158.01 357.00,157.42 357.50,157.59 358.00,157.77 358.50,157.49 359.00,157.70 359.50,157.65 360.00,157.36 360.50,156.71 360.70,156.07 361.00,154.96 361.20,154.23 361.45,153.18 361.50,153.26 361.70,152.30 361.95,153.28 362.00,153.27 362.20,154.48 362.50,155.69 362.70,156.44 363.00,157.53 363.50,158.23 364.00,158.30 364.50,158.29 365.00,157.46 365.50,156.66 365.75,155.67 366.00,155.20 366.25,156.11 366.50,156.16 367.00,157.38 367.50,158.47 368.00,158.63 368.50,158.97 369.00,158.81 369.50,159.19 370.00,158.77 370.50,157.80 371.00,156.22 371.25,155.42 371.50,154.60 371.75,155.13 372.00,155.88 372.50,157.05 373.00,158.05 373.50,158.75 374.00,159.36 374.50,159.15 375.00,159.42 375.50,159.07 376.00,158.93 376.40,158.41 376.50,157.95 376.90,156.73 377.00,155.91 377.15,155.56 377.40,155.20 377.50,155.11 377.65,155.64 377.90,155.76 378.00,156.49 378.40,156.98 378.50,157.49 379.00,157.50 379.20,157.24 379.50,157.17 379.70,156.46 379.95,156.20 380.00,155.76 380.20,156.30 380.45,156.32 380.50,156.49 380.70,156.39 381.00,157.41 381.20,157.50 381.50,157.84 382.00,158.32 382.50,158.63 383.00,158.92 383.50,159.07 384.00,159.17 384.50,158.97 385.00,158.85 385.50,158.19 386.00,157.85 386.30,157.20 386.50,156.67 386.80,156.39 387.00,155.70 387.05,155.57 387.30,155.20 387.50,155.60 387.55,155.66 387.80,156.37 388.00,156.94 388.30,157.23 388.50,157.82 389.00,158.50 389.50,158.73 390.00,158.64 390.50,158.64 391.00,158.32 391.50,158.41 392.00,158.69 392.50,158.69 393.00,159.10 393.50,158.89 394.00,159.29 394.50,158.99 395.00,158.91 395.50,159.12 396.00,159.06 396.50,159.03 397.00,159.29 397.50,159.03 398.00,159.37 398.50,159.40 399.00,158.93 399.30,158.71 399.50,158.75 399.80,158.23 400.00,157.78 400.05,157.68 400.30,157.90 400.50,157.59 400.55,157.75 400.80,157.78 401.00,158.29 401.30,158.41 401.50,158.49 402.00,158.83 402.50,159.14 403.00,158.73 403.50,158.68 404.00,158.75 404.50,158.69 405.00,158.85 405.30,158.52 405.50,158.18 405.80,157.70 406.00,157.41 406.05,157.42 406.30,157.90 406.50,157.77 406.55,157.69 406.80,157.60 407.00,158.03 407.30,157.78 407.50,157.93 407.70,157.52 408.00,156.55 408.20,156.17 408.45,155.23 408.50,154.97 408.70,154.40 408.95,154.98 409.00,155.45 409.20,156.14 409.50,157.47 409.70,157.76 410.00,158.85 410.50,158.72 411.00,158.92 411.50,159.02 412.00,158.90 412.50,158.96 413.00,159.47 413.50,159.83 414.00,159.62 414.50,159.72 415.00,160.05 415.50,159.62 416.00,159.47 416.50,159.34 417.00,158.88 417.50,158.43 418.00,158.16 418.50,158.40 419.00,158.59 419.50,158.34 420.00,157.35 420.50,156.56 421.00,154.87 421.40,152.91 421.50,152.71 421.90,150.76 422.00,150.56 422.15,149.80 422.40,149.70 422.50,149.80 422.65,149.89 422.90,150.33 423.00,150.48 423.40,152.28 423.50,152.48 424.00,154.57 424.50,155.71 424.90,156.08 425.00,156.37 425.40,155.95 425.50,156.37 425.65,156.49 425.90,156.30 426.00,156.41 426.15,156.75 426.40,157.06 426.50,157.57 426.90,158.44 427.00,158.39 427.50,159.27 428.00,159.41 428.50,159.70 429.00,159.36 429.50,159.65 430.00,159.27 430.50,158.99 431.00,158.95 431.50,159.12 432.00,158.87 432.50,158.35 432.75,157.92 433.00,158.10 433.25,158.35 433.50,158.41 434.00,158.50 434.50,159.05 435.00,159.45 435.50,159.10 436.00,158.95 436.50,158.76 436.90,158.68 437.00,158.65 437.40,157.87 437.50,158.14 437.65,157.99 437.90,157.40 438.00,158.07 438.15,158.01 438.40,158.52 438.50,158.47 438.90,159.21 439.00,159.12 439.50,159.42 440.00,159.88 440.50,159.92 441.00,159.80 441.50,159.77 442.00,159.83 442.50,159.97 443.00,159.92 443.50,160.14 444.00,160.47 444.50,160.62 445.00,160.65 445.50,160.78 446.00,160.44 446.50,160.55 447.00,160.31 447.50,160.54 448.00,160.49 448.50,160.52 449.00,160.29 449.50,160.03 450.00,160.32 450.50,160.01 451.00,159.91 451.50,159.94 452.00,160.17 452.50,160.56 453.00,160.83 453.50,160.79 454.00,161.00 454.50,160.63 455.00,160.58 455.50,160.21 456.00,159.70 456.50,159.05 457.00,158.53 457.25,158.27 457.50,158.40 457.75,158.13 458.00,158.55 458.50,159.87 459.00,160.63 459.50,161.18 460.00,161.41 460.50,161.48 461.00,161.17 461.50,160.92 462.00,160.97 462.50,160.61 463.00,161.07 463.50,160.75 464.00,160.74 464.50,160.80 465.00,160.60 465.50,160.16 466.00,160.16 466.50,160.06 467.00,160.59 467.50,160.75 468.00,160.79 468.50,160.85 469.00,160.82 469.50,160.85 470.00,160.78 470.50,160.68 471.00,160.45 471.50,160.30 472.00,159.98 472.50,159.97 473.00,159.92 473.50,160.33 474.00,159.89 474.50,159.89 475.00,159.96 475.50,160.32 476.00,160.26 476.50,159.93 477.00,160.21 477.50,160.21 478.00,159.92 478.50,159.81 479.00,160.22 479.50,160.08 480.00,160.03 480.50,160.56 481.00,160.31 481.50,160.22 482.00,160.17 482.50,159.76 483.00,159.42 483.50,159.47 484.00,159.39 484.50,159.20 485.00,159.49 485.50,159.83 486.00,159.69 486.50,159.97 487.00,159.97 487.50,159.70 488.00,159.54 488.50,159.86 489.00,159.75 489.50,159.51 490.00,159.44 490.50,159.88 491.00,160.07 491.50,159.88 492.00,160.28 492.50,160.43 493.00,160.34 493.50,160.08 494.00,160.03 494.50,159.94 495.00,159.62 495.50,159.32 496.00,158.90 496.50,158.79 497.00,158.63 497.40,158.44 497.50,158.34 497.90,158.39 498.00,157.88 498.15,158.34 498.40,158.00 498.50,157.94 498.65,158.39 498.90,158.25 499.00,158.55 499.40,158.84 499.50,158.73 500.00,159.55 500.50,159.76 501.00,159.50 501.50,159.79 502.00,159.61 502.50,159.93 503.00,159.41 503.50,159.63 504.00,159.55 504.50,159.72 505.00,159.62 505.50,159.26 506.00,158.35 506.50,157.10 506.70,156.78 507.00,155.50 507.20,155.05 507.45,154.82 507.50,154.57 507.70,154.40 507.95,154.94 508.00,154.49 508.20,155.12 508.50,155.78 508.70,156.21 509.00,157.01 509.50,157.80 510.00,158.06 510.50,157.69 510.75,157.53 511.00,157.20 511.25,157.51 511.50,158.07 512.00,158.68 512.50,159.43 513.00,159.15 513.50,159.39 514.00,159.40 514.50,159.37 515.00,159.70 515.50,159.32 516.00,159.71 516.50,159.37 517.00,159.28 517.50,159.29 518.00,158.97 518.50,158.23 519.00,157.09 519.40,156.44 519.50,155.77 519.90,154.33 520.00,154.37 520.15,153.97 520.40,154.20 520.50,153.72 520.65,153.95 520.90,154.94 521.00,154.98 521.40,156.49 521.50,157.16 522.00,158.31 522.50,159.27 523.00,159.57 523.50,159.94 524.00,159.81 524.50,159.45 525.00,159.18 525.50,158.96 526.00,159.27 526.50,159.14 527.00,159.42 527.50,159.20 528.00,159.46 528.50,159.10 529.00,159.26 529.50,159.78 530.00,159.76 530.50,159.93 531.00,159.99 531.50,160.12 532.00,160.04 532.50,160.08 533.00,160.42 533.50,160.51 534.00,160.32 534.50,160.61 535.00,160.36 535.50,160.71 536.00,160.57 536.50,160.90 537.00,160.93 537.50,161.18 538.00,161.01 538.50,161.17 539.00,161.09 539.50,160.59"/>
</g>
<g fill="#000">
<path d="M0,4.6 C-0.4,3.2 -4.1,0.9 -4.1,-1.3 C-4.1,-2.8 -3.2,-3.6 -2.1,-3.6 C-1,-3.6 -0.3,-2.9 0,-2.2 C0.3,-2.9 1,-3.6 2.1,-3.6 C3.2,-3.6 4.1,-2.8 4.1,-1.3 C4.1,0.9 0.4,3.2 0,4.6 Z" transform="translate(82.60,127.40) scale(1.00)"/>
<path d="M0,4.6 C-0.4,3.2 -4.1,0.9 -4.1,-1.3 C-4.1,-2.8 -3.2,-3.6 -2.1,-3.6 C-1,-3.6 -0.3,-2.9 0,-2.2 C0.3,-2.9 1,-3.6 2.1,-3.6 C3.2,-3.6 4.1,-2.8 4.1,-1.3 C4.1,0.9 0.4,3.2 0,4.6 Z" transform="translate(125.60,130.40) scale(1.00)"/>
<path d="M0,4.6 C-0.4,3.2 -4.1,0.9 -4.1,-1.3 C-4.1,-2.8 -3.2,-3.6 -2.1,-3.6 C-1,-3.6 -0.3,-2.9 0,-2.2 C0.3,-2.9 1,-3.6 2.1,-3.6 C3.2,-3.6 4.1,-2.8 4.1,-1.3 C4.1,0.9 0.4,3.2 0,4.6 Z" transform="translate(163.40,130.70) scale(1.00)"/>
<path d="M0,4.6 C-0.4,3.2 -4.1,0.9 -4.1,-1.3 C-4.1,-2.8 -3.2,-3.6 -2.1,-3.6 C-1,-3.6 -0.3,-2.9 0,-2.2 C0.3,-2.9 1,-3.6 2.1,-3.6 C3.2,-3.6 4.1,-2.8 4.1,-1.3 C4.1,0.9 0.4,3.2 0,4.6 Z" transform="translate(208.00,91.00) scale(1.00)"/>
<path d="M0,4.6 C-0.4,3.2 -4.1,0.9 -4.1,-1.3 C-4.1,-2.8 -3.2,-3.6 -2.1,-3.6 C-1,-3.6 -0.3,-2.9 0,-2.2 C0.3,-2.9 1,-3.6 2.1,-3.6 C3.2,-3.6 4.1,-2.8 4.1,-1.3 C4.1,0.9 0.4,3.2 0,4.6 Z" transform="translate(247.10,133.20) scale(1.00)"/>
<path d="M0,4.6 C-0.4,3.2 -4.1,0.9 -4.1,-1.3 C-4.1,-2.8 -3.2,-3.6 -2.1,-3.6 C-1,-3.6 -0.3,-2.9 0,-2.2 C0.3,-2.9 1,-3.6 2.1,-3.6 C3.2,-3.6 4.1,-2.8 4.1,-1.3 C4.1,0.9 0.4,3.2 0,4.6 Z" transform="translate(265.60,118.90) scale(1.00)"/>
<path d="M0,4.6 C-0.4,3.2 -4.1,0.9 -4.1,-1.3 C-4.1,-2.8 -3.2,-3.6 -2.1,-3.6 C-1,-3.6 -0.3,-2.9 0,-2.2 C0.3,-2.9 1,-3.6 2.1,-3.6 C3.2,-3.6 4.1,-2.8 4.1,-1.3 C4.1,0.9 0.4,3.2 0,4.6 Z" transform="translate(332.80,148.00) scale(1.00)"/>
<path d="M0,4.6 C-0.4,3.2 -4.1,0.9 -4.1,-1.3 C-4.1,-2.8 -3.2,-3.6 -2.1,-3.6 C-1,-3.6 -0.3,-2.9 0,-2.2 C0.3,-2.9 1,-3.6 2.1,-3.6 C3.2,-3.6 4.1,-2.8 4.1,-1.3 C4.1,0.9 0.4,3.2 0,4.6 Z" transform="translate(339.40,141.60) scale(1.00)"/>
<path d="M0,4.6 C-0.4,3.2 -4.1,0.9 -4.1,-1.3 C-4.1,-2.8 -3.2,-3.6 -2.1,-3.6 C-1,-3.6 -0.3,-2.9 0,-2.2 C0.3,-2.9 1,-3.6 2.1,-3.6 C3.2,-3.6 4.1,-2.8 4.1,-1.3 C4.1,0.9 0.4,3.2 0,4.6 Z" transform="translate(169.30,32.80) scale(1.05)"/>
<circle cx="141.60" cy="134.20" r="2.90"/>
<circle cx="146.10" cy="123.10" r="2.90"/>
<circle cx="182.20" cy="35.90" r="2.90"/>
<circle cx="190.20" cy="128.00" r="2.90"/>
<circle cx="196.60" cy="106.70" r="2.90"/>
<circle cx="229.10" cy="118.80" r="2.90"/>
<circle cx="301.70" cy="126.40" r="2.90"/>
<circle cx="345.60" cy="144.60" r="2.90"/>
<path d="M0,-4.7 L3.7,0 L0,4.7 L-3.7,0 Z" transform="translate(234.60,140.00) scale(1.00)"/>
<path d="M0,-4.7 L3.7,0 L0,4.7 L-3.7,0 Z" transform="translate(258.70,129.50) scale(1.00)"/>
<path d="M0,-4.7 L3.7,0 L0,4.7 L-3.7,0 Z" transform="translate(269.70,105.80) scale(1.00)"/>
<path d="M0,-4.7 L3.7,0 L0,4.7 L-3.7,0 Z" transform="translate(353.00,143.30) scale(1.00)"/>
<path d="M0,-4.7 L3.7,0 L0,4.7 L-3.7,0 Z" transform="translate(61.30,407.30) scale(1.00)"/>
<path d="M0,-4.7 L3.7,0 L0,4.7 L-3.7,0 Z" transform="translate(234.30,375.00) scale(1.00)"/>
<path d="M0,-4.7 L3.7,0 L0,4.7 L-3.7,0 Z" transform="translate(256.60,409.00) scale(1.00)"/>
<path d="M0,-4.7 L3.7,0 L0,4.7 L-3.7,0 Z" transform="translate(268.60,355.50) scale(1.00)"/>
<path d="M0,-4.7 L3.7,0 L0,4.7 L-3.7,0 Z" transform="translate(355.50,410.90) scale(1.00)"/>
<path d="M0,-4.7 L3.7,0 L0,4.7 L-3.7,0 Z" transform="translate(423.30,400.50) scale(1.00)"/>
<path d="M0,-4.7 L3.7,0 L0,4.7 L-3.7,0 Z" transform="translate(498.60,417.50) scale(1.00)"/>
<path d="M0,-4.7 L3.7,0 L0,4.7 L-3.7,0 Z" transform="translate(513.40,415.50) scale(1.00)"/>
<path d="M0,-4.7 L3.7,0 L0,4.7 L-3.7,0 Z" transform="translate(520.50,411.40) scale(1.00)"/>
</g>
<g stroke="#111" stroke-width="2" fill="none">
<rect x="30" y="8" width="510" height="433"/>
<path d="M30.00,441 V445.30 M64.00,441 V448.50 M98.00,441 V445.30 M132.00,441 V448.50 M166.00,441 V445.30 M200.00,441 V448.50 M234.00,441 V445.30 M268.00,441 V448.50 M302.00,441 V445.30 M336.00,441 V448.50 M370.00,441 V445.30 M404.00,441 V448.50 M438.00,441 V445.30 M472.00,441 V448.50 M506.00,441 V445.30 M540.00,441 V448.50"/>
</g>
<g font-family="Liberation Serif, serif" font-size="15.5" fill="#111">
<text x="64.00" y="465.3" text-anchor="middle">10</text>
<text x="132.00" y="465.3" text-anchor="middle">20</text>
<text x="200.00" y="465.3" text-anchor="middle">30</text>
<text x="268.00" y="465.3" text-anchor="middle">40</text>
<text x="336.00" y="465.3" text-anchor="middle">50</text>
<text x="404.00" y="465.3" text-anchor="middle">60</text>
<text x="472.00" y="465.3" text-anchor="middle">70</text>
<text x="540.00" y="465.3" text-anchor="middle">80</text>
</g>
<g font-family="Liberation Serif, serif" font-weight="bold" fill="#111" stroke="#111" stroke-width="0.25">
<text x="241" y="480.7" font-size="18">2theta(degree)</text>
<text transform="translate(19,225) rotate(-90)" text-anchor="middle" font-size="18">Relative intensity</text>
<g font-size="12">
<text transform="translate(470,141.7) scale(1.07,1)">pH 3.25</text>
<text transform="translate(471.3,254.7) scale(1.07,1)">pH 3.00</text>
<text transform="translate(471.6,340.5) scale(1.07,1)">pH 2.75</text>
<text transform="translate(472.4,408.3) scale(1.07,1)">pH 2.50</text>
</g>
<g font-size="16.2">
<text transform="translate(457,32) scale(1.03,1)">Ti</text>
<text transform="translate(457,58.3) scale(1.03,1)">SrHPO<tspan font-size="10.5" dy="6.3">4</tspan></text>
<text transform="translate(457,80.3) scale(0.995,1)">Sr<tspan font-size="10.5" dy="6.3">3</tspan><tspan dy="-6.3">(PO</tspan><tspan font-size="10.5" dy="6.3">4</tspan><tspan dy="-6.3">)</tspan><tspan font-size="10.5" dy="6.3">2</tspan></text>
</g>
</g>
<g fill="#000">
<path d="M0,-4.3 L3.9,0 L0,4.3 L-3.9,0 Z" transform="translate(446,28.1)"/>
<path d="M0,4.6 C-0.4,3.2 -4.1,0.9 -4.1,-1.3 C-4.1,-2.8 -3.2,-3.6 -2.1,-3.6 C-1,-3.6 -0.3,-2.9 0,-2.2 C0.3,-2.9 1,-3.6 2.1,-3.6 C3.2,-3.6 4.1,-2.8 4.1,-1.3 C4.1,0.9 0.4,3.2 0,4.6 Z" transform="translate(446.3,52.5) scale(1,1.03)"/>
<circle cx="446.20" cy="75.80" r="3.10"/>
</g>
</svg>
</body></html>
